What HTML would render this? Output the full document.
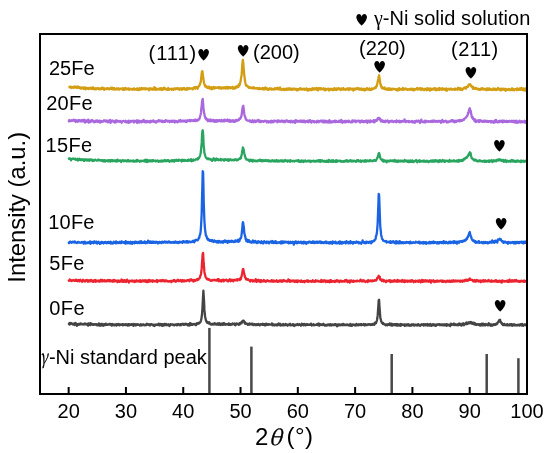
<!DOCTYPE html>
<html><head><meta charset="utf-8"><style>
html,body{margin:0;padding:0;background:#fff;}
body{width:550px;height:453px;overflow:hidden;}
svg{display:block;}
text{font-family:"Liberation Sans",sans-serif;fill:#000;}
.h text{font-family:"NanumGothic",sans-serif;}
.s{font-family:"Liberation Serif",serif;}
</style></head><body>
<svg width="550" height="453" viewBox="0 0 550 453">
<g font-size="20">
<polyline fill="none" stroke="#D49E14" stroke-width="2.3" stroke-linejoin="round" points="68.6,87.1 69.0,87.3 69.3,87.0 69.7,86.7 70.0,86.9 70.4,86.7 70.7,87.3 71.1,88.0 71.4,87.0 71.7,87.0 72.1,87.6 72.4,87.6 72.8,87.5 73.1,86.9 73.5,87.5 73.8,87.9 74.1,86.8 74.5,87.3 74.8,86.5 75.2,86.9 75.5,86.6 75.9,87.5 76.2,87.0 76.6,87.8 76.9,87.8 77.2,87.6 77.6,86.4 77.9,87.5 78.3,87.8 78.6,87.9 79.0,87.0 79.3,87.6 79.6,87.3 80.0,87.5 80.3,88.5 80.7,87.5 81.0,87.9 81.4,88.5 81.7,87.7 82.1,88.0 82.4,88.1 82.7,88.1 83.1,87.4 83.4,88.1 83.8,88.9 84.1,87.3 84.5,88.6 84.8,88.2 85.1,87.8 85.5,89.3 85.8,88.6 86.2,87.6 86.5,88.3 86.9,88.6 87.2,88.2 87.6,88.7 87.9,88.3 88.2,88.7 88.6,89.1 88.9,88.0 89.3,88.5 89.6,88.1 90.0,88.4 90.3,87.7 90.6,88.1 91.0,88.3 91.3,88.9 91.7,89.1 92.0,87.7 92.4,88.0 92.7,88.8 93.1,87.4 93.4,88.2 93.7,88.4 94.1,89.2 94.4,88.9 94.8,88.4 95.1,88.3 95.5,88.4 95.8,89.4 96.1,88.3 96.5,88.4 96.8,88.8 97.2,88.5 97.5,88.5 97.9,88.0 98.2,88.6 98.6,88.4 98.9,89.3 99.2,89.0 99.6,88.6 99.9,89.0 100.3,88.5 100.6,89.3 101.0,88.7 101.3,89.0 101.6,88.0 102.0,88.9 102.3,87.8 102.7,87.6 103.0,88.6 103.4,88.2 103.7,88.8 104.1,90.0 104.4,88.3 104.7,88.4 105.1,88.9 105.4,89.1 105.8,88.7 106.1,88.7 106.5,89.2 106.8,89.1 107.1,88.2 107.5,88.8 107.8,88.8 108.2,88.2 108.5,89.0 108.9,88.4 109.2,89.4 109.6,89.0 109.9,88.9 110.2,88.5 110.6,88.8 110.9,87.8 111.3,88.3 111.6,89.1 112.0,87.7 112.3,89.4 112.6,87.9 113.0,89.3 113.3,88.4 113.7,89.3 114.0,89.0 114.4,88.1 114.7,89.6 115.1,89.7 115.4,88.9 115.7,88.8 116.1,88.8 116.4,88.4 116.8,89.5 117.1,88.6 117.5,88.9 117.8,88.5 118.1,88.6 118.5,88.3 118.8,89.6 119.2,88.9 119.5,89.5 119.9,89.0 120.2,88.6 120.6,88.8 120.9,88.7 121.2,89.0 121.6,88.8 121.9,88.8 122.3,88.2 122.6,88.5 123.0,89.9 123.3,88.6 123.6,88.4 124.0,89.2 124.3,89.8 124.7,88.2 125.0,88.9 125.4,88.7 125.7,88.0 126.1,89.4 126.4,89.0 126.7,89.1 127.1,88.6 127.4,89.3 127.8,88.7 128.1,88.9 128.5,88.4 128.8,88.4 129.1,89.8 129.5,88.7 129.8,89.2 130.2,89.0 130.5,88.8 130.9,88.8 131.2,89.4 131.6,88.9 131.9,89.0 132.2,89.1 132.6,89.7 132.9,89.4 133.3,89.3 133.6,88.7 134.0,88.3 134.3,89.6 134.6,89.6 135.0,89.0 135.3,89.3 135.7,89.5 136.0,89.5 136.4,89.6 136.7,88.8 137.1,89.9 137.4,88.4 137.7,89.5 138.1,89.3 138.4,89.5 138.8,90.1 139.1,89.9 139.5,88.4 139.8,88.1 140.1,89.5 140.5,88.5 140.8,89.0 141.2,89.5 141.5,88.2 141.9,87.9 142.2,89.2 142.6,89.1 142.9,88.9 143.2,89.1 143.6,88.6 143.9,88.2 144.3,89.0 144.6,88.5 145.0,88.2 145.3,89.3 145.7,89.0 146.0,89.3 146.3,88.5 146.7,88.7 147.0,88.5 147.4,88.6 147.7,89.2 148.1,88.6 148.4,89.2 148.7,89.2 149.1,90.2 149.4,88.3 149.8,89.5 150.1,89.0 150.5,89.0 150.8,88.3 151.2,88.8 151.5,89.5 151.8,89.0 152.2,89.1 152.5,88.9 152.9,89.7 153.2,89.0 153.6,87.8 153.9,88.7 154.2,88.0 154.6,87.3 154.9,88.7 155.3,89.8 155.6,89.1 156.0,88.4 156.3,88.5 156.7,89.7 157.0,89.1 157.3,89.1 157.7,89.0 158.0,89.0 158.4,89.5 158.7,89.3 159.1,89.1 159.4,88.4 159.7,89.3 160.1,88.6 160.4,89.6 160.8,88.3 161.1,88.9 161.5,89.0 161.8,88.3 162.2,90.0 162.5,89.8 162.8,88.7 163.2,89.4 163.5,89.2 163.9,87.6 164.2,89.1 164.6,89.0 164.9,89.0 165.2,88.4 165.6,88.8 165.9,88.9 166.3,89.6 166.6,89.2 167.0,89.0 167.3,89.8 167.7,88.7 168.0,88.8 168.3,88.0 168.7,89.8 169.0,89.5 169.4,89.5 169.7,89.3 170.1,89.0 170.4,89.1 170.7,88.8 171.1,88.8 171.4,89.0 171.8,89.8 172.1,89.2 172.5,88.9 172.8,88.6 173.2,88.6 173.5,89.8 173.8,89.2 174.2,88.9 174.5,88.7 174.9,88.3 175.2,88.9 175.6,89.4 175.9,88.7 176.2,88.8 176.6,88.7 176.9,88.9 177.3,88.0 177.6,88.7 178.0,88.4 178.3,89.3 178.7,88.4 179.0,89.2 179.3,89.7 179.7,88.7 180.0,88.5 180.4,88.9 180.7,88.8 181.1,88.3 181.4,89.0 181.7,89.9 182.1,88.6 182.4,88.7 182.8,88.2 183.1,88.9 183.5,88.1 183.8,88.1 184.2,89.4 184.5,88.2 184.8,89.3 185.2,89.5 185.5,88.8 185.9,89.0 186.2,89.8 186.6,88.6 186.9,88.3 187.2,87.9 187.6,88.7 187.9,89.4 188.3,89.1 188.6,88.1 189.0,88.1 189.3,88.3 189.7,88.7 190.0,88.4 190.3,88.6 190.7,88.7 191.0,88.3 191.4,88.4 191.7,88.6 192.1,88.4 192.4,88.7 192.7,89.4 193.1,88.7 193.4,88.3 193.8,87.4 194.1,88.5 194.5,87.1 194.8,87.4 195.2,88.6 195.5,88.4 195.8,87.9 196.2,87.0 196.5,87.6 196.9,87.3 197.2,87.9 197.6,88.7 197.9,87.4 198.2,86.6 198.6,86.1 198.9,86.4 199.3,85.9 199.6,84.7 200.0,84.5 200.3,82.7 200.7,82.3 201.0,80.0 201.3,77.2 201.7,73.2 202.0,71.4 202.4,71.1 202.7,73.2 203.1,76.3 203.4,78.7 203.7,80.8 204.1,83.6 204.4,84.3 204.8,85.3 205.1,86.3 205.5,85.3 205.8,86.1 206.2,86.9 206.5,87.2 206.8,87.0 207.2,87.9 207.5,87.5 207.9,86.8 208.2,87.1 208.6,88.1 208.9,87.9 209.2,86.7 209.6,88.5 209.9,88.1 210.3,88.5 210.6,87.6 211.0,87.7 211.3,87.2 211.7,89.3 212.0,87.8 212.3,88.8 212.7,87.5 213.0,88.0 213.4,87.0 213.7,87.7 214.1,88.5 214.4,87.2 214.7,88.5 215.1,88.1 215.4,87.4 215.8,87.6 216.1,87.7 216.5,87.9 216.8,87.6 217.2,87.5 217.5,87.8 217.8,87.4 218.2,87.2 218.5,87.9 218.9,88.4 219.2,87.1 219.6,87.9 219.9,87.6 220.2,87.4 220.6,88.4 220.9,87.6 221.3,88.8 221.6,87.5 222.0,88.1 222.3,87.8 222.7,87.5 223.0,88.3 223.3,87.8 223.7,88.3 224.0,87.9 224.4,87.3 224.7,87.9 225.1,88.0 225.4,88.5 225.7,87.4 226.1,87.9 226.4,87.0 226.8,88.3 227.1,87.3 227.5,86.9 227.8,87.9 228.2,88.5 228.5,87.1 228.8,87.3 229.2,87.5 229.5,87.3 229.9,88.1 230.2,87.5 230.6,87.5 230.9,88.2 231.2,87.5 231.6,88.1 231.9,87.3 232.3,87.2 232.6,86.8 233.0,88.8 233.3,87.6 233.7,87.9 234.0,87.7 234.3,87.8 234.7,87.6 235.0,88.6 235.4,86.9 235.7,86.6 236.1,86.8 236.4,86.5 236.7,87.6 237.1,87.5 237.4,86.3 237.8,85.9 238.1,86.3 238.5,86.9 238.8,84.3 239.2,85.7 239.5,84.2 239.8,84.7 240.2,82.5 240.5,81.7 240.9,79.2 241.2,77.1 241.6,75.2 241.9,70.8 242.2,65.6 242.6,61.6 242.9,59.9 243.3,63.0 243.6,67.3 244.0,71.8 244.3,75.6 244.7,78.0 245.0,80.8 245.3,82.4 245.7,84.3 246.0,85.6 246.4,85.1 246.7,85.3 247.1,86.1 247.4,86.2 247.7,86.4 248.1,87.0 248.4,86.6 248.8,87.7 249.1,87.5 249.5,87.8 249.8,87.6 250.2,87.4 250.5,87.4 250.8,87.9 251.2,87.8 251.5,88.2 251.9,88.2 252.2,87.5 252.6,88.3 252.9,87.6 253.2,88.0 253.6,88.2 253.9,87.3 254.3,88.5 254.6,88.5 255.0,88.4 255.3,88.3 255.7,88.3 256.0,88.0 256.3,88.4 256.7,88.3 257.0,88.6 257.4,88.0 257.7,88.8 258.1,88.7 258.4,88.6 258.7,88.4 259.1,89.0 259.4,87.8 259.8,89.0 260.1,88.9 260.5,88.9 260.8,89.0 261.2,88.4 261.5,88.6 261.8,89.1 262.2,89.0 262.5,88.9 262.9,88.0 263.2,89.1 263.6,89.5 263.9,89.4 264.2,89.0 264.6,88.0 264.9,89.4 265.3,88.8 265.6,87.5 266.0,89.1 266.3,88.0 266.7,88.2 267.0,88.5 267.3,89.6 267.7,88.7 268.0,89.0 268.4,89.9 268.7,89.8 269.1,88.9 269.4,88.8 269.7,88.2 270.1,88.5 270.4,89.2 270.8,89.2 271.1,89.0 271.5,89.5 271.8,88.5 272.2,88.9 272.5,89.4 272.8,89.3 273.2,89.6 273.5,89.2 273.9,88.8 274.2,89.2 274.6,88.4 274.9,88.1 275.2,89.3 275.6,89.0 275.9,89.2 276.3,88.1 276.6,88.8 277.0,88.7 277.3,88.5 277.7,87.8 278.0,88.8 278.3,89.5 278.7,89.2 279.0,88.7 279.4,89.0 279.7,89.4 280.1,87.5 280.4,89.0 280.7,89.3 281.1,89.4 281.4,90.0 281.8,89.7 282.1,89.2 282.5,89.2 282.8,89.5 283.2,88.8 283.5,89.0 283.8,89.6 284.2,90.1 284.5,89.0 284.9,89.0 285.2,89.2 285.6,89.8 285.9,89.1 286.2,89.9 286.6,88.5 286.9,89.0 287.3,89.0 287.6,89.5 288.0,89.7 288.3,88.3 288.7,88.6 289.0,89.3 289.3,88.7 289.7,88.3 290.0,89.7 290.4,89.4 290.7,89.4 291.1,88.8 291.4,89.7 291.7,89.0 292.1,89.7 292.4,88.6 292.8,88.6 293.1,89.2 293.5,88.7 293.8,89.5 294.2,89.3 294.5,88.6 294.8,89.2 295.2,88.9 295.5,89.6 295.9,88.8 296.2,88.9 296.6,89.8 296.9,90.4 297.3,90.2 297.6,89.2 297.9,89.3 298.3,90.0 298.6,89.1 299.0,88.6 299.3,89.2 299.7,89.4 300.0,88.7 300.3,88.2 300.7,88.4 301.0,89.5 301.4,88.7 301.7,89.1 302.1,89.3 302.4,89.5 302.8,89.0 303.1,89.4 303.4,88.7 303.8,89.0 304.1,88.6 304.5,89.8 304.8,89.1 305.2,88.8 305.5,89.0 305.8,89.0 306.2,89.5 306.5,88.3 306.9,88.6 307.2,89.0 307.6,90.6 307.9,89.7 308.3,89.1 308.6,89.6 308.9,90.3 309.3,89.0 309.6,89.0 310.0,89.8 310.3,89.4 310.7,89.5 311.0,88.9 311.3,90.2 311.7,90.1 312.0,89.5 312.4,89.6 312.7,88.1 313.1,89.5 313.4,89.1 313.8,89.4 314.1,89.6 314.4,89.0 314.8,88.3 315.1,89.4 315.5,88.8 315.8,89.0 316.2,88.9 316.5,89.0 316.8,87.9 317.2,89.9 317.5,89.3 317.9,89.8 318.2,90.3 318.6,89.2 318.9,88.2 319.3,88.7 319.6,88.5 319.9,88.9 320.3,89.2 320.6,88.1 321.0,89.4 321.3,88.4 321.7,89.4 322.0,89.1 322.3,89.0 322.7,89.2 323.0,88.9 323.4,88.9 323.7,88.3 324.1,89.2 324.4,90.2 324.8,90.3 325.1,89.9 325.4,89.6 325.8,88.8 326.1,90.0 326.5,89.2 326.8,89.2 327.2,89.0 327.5,89.3 327.8,89.0 328.2,89.2 328.5,88.6 328.9,89.0 329.2,90.5 329.6,89.2 329.9,89.1 330.3,89.5 330.6,89.6 330.9,88.6 331.3,89.1 331.6,89.7 332.0,89.4 332.3,89.3 332.7,90.1 333.0,88.8 333.3,89.3 333.7,88.9 334.0,90.0 334.4,88.1 334.7,88.8 335.1,88.9 335.4,89.6 335.8,89.5 336.1,90.0 336.4,88.3 336.8,89.6 337.1,89.1 337.5,88.8 337.8,89.5 338.2,88.7 338.5,88.1 338.8,89.0 339.2,88.4 339.5,88.9 339.9,89.4 340.2,89.4 340.6,90.1 340.9,89.1 341.3,88.4 341.6,88.8 341.9,88.7 342.3,88.5 342.6,89.5 343.0,88.9 343.3,88.1 343.7,89.6 344.0,89.2 344.3,89.4 344.7,89.3 345.0,89.6 345.4,89.2 345.7,89.9 346.1,89.4 346.4,89.4 346.8,89.4 347.1,88.4 347.4,89.1 347.8,89.1 348.1,89.3 348.5,88.5 348.8,90.1 349.2,89.3 349.5,88.5 349.8,88.3 350.2,89.1 350.5,89.2 350.9,88.8 351.2,89.3 351.6,88.9 351.9,89.5 352.3,88.8 352.6,89.2 352.9,89.7 353.3,90.6 353.6,88.7 354.0,89.0 354.3,88.7 354.7,89.6 355.0,88.6 355.3,88.9 355.7,89.2 356.0,88.7 356.4,88.7 356.7,88.9 357.1,88.0 357.4,88.4 357.8,89.0 358.1,89.3 358.4,89.1 358.8,88.2 359.1,88.9 359.5,89.6 359.8,89.5 360.2,89.1 360.5,88.7 360.8,89.5 361.2,88.9 361.5,88.5 361.9,88.7 362.2,90.0 362.6,89.3 362.9,89.8 363.3,88.9 363.6,89.7 363.9,88.8 364.3,89.1 364.6,90.5 365.0,89.6 365.3,88.9 365.7,89.1 366.0,89.3 366.3,89.8 366.7,88.8 367.0,88.1 367.4,88.9 367.7,89.1 368.1,89.1 368.4,89.8 368.8,89.2 369.1,89.5 369.4,88.4 369.8,89.5 370.1,90.1 370.5,89.4 370.8,89.1 371.2,89.0 371.5,89.9 371.8,88.3 372.2,88.8 372.5,89.0 372.9,89.1 373.2,88.4 373.6,88.7 373.9,88.3 374.3,88.4 374.6,88.2 374.9,87.4 375.3,87.8 375.6,88.1 376.0,86.7 376.3,86.6 376.7,86.4 377.0,84.5 377.3,83.9 377.7,81.5 378.0,80.4 378.4,78.5 378.7,76.5 379.1,75.3 379.4,77.6 379.8,79.8 380.1,82.1 380.4,84.7 380.8,84.4 381.1,86.6 381.5,86.7 381.8,88.0 382.2,87.7 382.5,87.5 382.8,88.2 383.2,88.6 383.5,88.4 383.9,88.8 384.2,88.3 384.6,87.5 384.9,89.2 385.3,89.2 385.6,88.9 385.9,88.9 386.3,89.5 386.6,88.7 387.0,88.6 387.3,88.9 387.7,89.7 388.0,88.3 388.3,89.7 388.7,88.7 389.0,88.5 389.4,89.8 389.7,89.0 390.1,88.4 390.4,88.9 390.8,89.6 391.1,89.8 391.4,88.9 391.8,89.4 392.1,89.5 392.5,88.8 392.8,89.4 393.2,89.1 393.5,88.9 393.8,88.9 394.2,89.2 394.5,89.2 394.9,88.9 395.2,89.0 395.6,89.8 395.9,89.3 396.3,89.7 396.6,89.9 396.9,89.5 397.3,90.5 397.6,88.8 398.0,89.7 398.3,89.0 398.7,90.2 399.0,90.1 399.3,88.1 399.7,88.7 400.0,89.6 400.4,89.7 400.7,89.6 401.1,89.2 401.4,89.5 401.8,89.6 402.1,89.2 402.4,89.8 402.8,88.0 403.1,89.6 403.5,88.7 403.8,89.8 404.2,89.1 404.5,88.7 404.8,89.4 405.2,88.7 405.5,88.7 405.9,88.4 406.2,89.2 406.6,89.5 406.9,89.8 407.3,89.2 407.6,89.8 407.9,89.3 408.3,89.2 408.6,89.6 409.0,89.8 409.3,89.1 409.7,89.1 410.0,89.2 410.3,89.3 410.7,88.7 411.0,89.8 411.4,89.0 411.7,89.5 412.1,88.8 412.4,89.4 412.8,89.5 413.1,89.0 413.4,90.4 413.8,89.5 414.1,90.2 414.5,89.8 414.8,88.9 415.2,89.0 415.5,89.5 415.8,89.3 416.2,89.3 416.5,89.1 416.9,88.3 417.2,89.1 417.6,88.0 417.9,89.5 418.3,88.9 418.6,88.9 418.9,89.1 419.3,89.4 419.6,88.5 420.0,88.3 420.3,88.7 420.7,88.1 421.0,88.7 421.3,90.1 421.7,88.7 422.0,89.6 422.4,88.5 422.7,89.4 423.1,89.1 423.4,89.2 423.8,89.6 424.1,90.2 424.4,89.4 424.8,89.3 425.1,88.7 425.5,89.6 425.8,89.1 426.2,89.7 426.5,89.2 426.8,90.2 427.2,88.2 427.5,89.1 427.9,89.7 428.2,89.1 428.6,88.8 428.9,89.1 429.3,88.5 429.6,89.3 429.9,90.6 430.3,89.9 430.6,88.6 431.0,88.8 431.3,89.0 431.7,89.8 432.0,88.8 432.3,88.9 432.7,89.7 433.0,89.7 433.4,89.0 433.7,88.6 434.1,88.4 434.4,88.9 434.8,88.0 435.1,89.7 435.4,88.9 435.8,89.5 436.1,90.3 436.5,89.9 436.8,88.6 437.2,89.7 437.5,89.9 437.8,88.8 438.2,88.7 438.5,89.2 438.9,88.4 439.2,90.1 439.6,87.9 439.9,88.6 440.3,89.1 440.6,89.1 440.9,89.3 441.3,89.4 441.6,89.1 442.0,89.9 442.3,88.1 442.7,89.2 443.0,88.8 443.3,89.3 443.7,89.4 444.0,88.7 444.4,88.9 444.7,89.7 445.1,89.4 445.4,88.9 445.8,90.4 446.1,90.5 446.4,88.4 446.8,89.4 447.1,90.6 447.5,89.7 447.8,89.3 448.2,89.1 448.5,88.9 448.8,89.1 449.2,88.9 449.5,89.6 449.9,89.0 450.2,89.0 450.6,88.6 450.9,89.2 451.3,88.7 451.6,89.1 451.9,89.8 452.3,89.4 452.6,89.5 453.0,89.4 453.3,89.2 453.7,89.1 454.0,89.0 454.4,89.6 454.7,88.6 455.0,89.9 455.4,89.2 455.7,88.7 456.1,88.9 456.4,88.8 456.8,89.2 457.1,88.7 457.4,89.7 457.8,88.7 458.1,87.8 458.5,88.7 458.8,88.0 459.2,89.0 459.5,89.6 459.9,89.4 460.2,88.2 460.5,88.5 460.9,89.9 461.2,89.0 461.6,88.8 461.9,89.3 462.3,90.0 462.6,89.3 462.9,88.6 463.3,88.7 463.6,88.7 464.0,87.9 464.3,87.6 464.7,88.0 465.0,87.4 465.4,87.7 465.7,87.6 466.0,88.7 466.4,86.8 466.7,87.0 467.1,86.8 467.4,86.9 467.8,87.0 468.1,85.8 468.4,85.3 468.8,84.4 469.1,84.5 469.5,85.0 469.8,84.6 470.2,84.2 470.5,84.9 470.9,85.6 471.2,86.4 471.5,86.3 471.9,86.9 472.2,86.4 472.6,87.1 472.9,88.9 473.3,87.0 473.6,88.2 473.9,88.6 474.3,88.4 474.6,88.2 475.0,88.7 475.3,88.8 475.7,88.8 476.0,87.9 476.4,88.8 476.7,88.5 477.0,88.7 477.4,89.1 477.7,89.4 478.1,89.5 478.4,88.8 478.8,89.6 479.1,89.7 479.4,89.7 479.8,89.9 480.1,89.0 480.5,89.0 480.8,89.6 481.2,88.4 481.5,89.3 481.9,88.9 482.2,89.0 482.5,88.2 482.9,88.7 483.2,89.2 483.6,89.7 483.9,89.7 484.3,89.2 484.6,89.1 484.9,88.7 485.3,89.4 485.6,89.1 486.0,89.5 486.3,90.2 486.7,89.2 487.0,88.4 487.4,88.8 487.7,88.4 488.0,88.6 488.4,89.9 488.7,89.4 489.1,88.4 489.4,89.6 489.8,89.9 490.1,89.0 490.4,88.9 490.8,89.1 491.1,89.4 491.5,89.6 491.8,89.9 492.2,89.9 492.5,89.9 492.9,90.0 493.2,89.6 493.5,88.4 493.9,89.2 494.2,89.4 494.6,89.0 494.9,89.8 495.3,89.1 495.6,88.7 495.9,90.1 496.3,89.6 496.6,89.4 497.0,89.8 497.3,89.8 497.7,89.4 498.0,87.9 498.4,88.9 498.7,89.0 499.0,88.7 499.4,89.4 499.7,89.9 500.1,89.0 500.4,88.6 500.8,90.4 501.1,89.0 501.4,88.6 501.8,89.4 502.1,89.5 502.5,88.9 502.8,89.7 503.2,89.0 503.5,88.8 503.9,89.4 504.2,89.7 504.5,88.9 504.9,89.5 505.2,89.2 505.6,90.8 505.9,88.9 506.3,90.0 506.6,89.2 506.9,89.2 507.3,89.7 507.6,89.8 508.0,90.0 508.3,89.5 508.7,88.9 509.0,89.0 509.4,89.6 509.7,89.6 510.0,90.0 510.4,89.5 510.7,89.9 511.1,90.1 511.4,89.4 511.8,88.5 512.1,88.6 512.4,88.5 512.8,90.2 513.1,88.8 513.5,90.0 513.8,89.6 514.2,90.2 514.5,89.8 514.9,89.2 515.2,89.2 515.5,89.3 515.9,89.4 516.2,89.0 516.6,89.3 516.9,90.2 517.3,88.3 517.6,89.4 517.9,88.8 518.3,89.4 518.6,89.7 519.0,89.2 519.3,89.7 519.7,88.4 520.0,89.9 520.4,88.9 520.7,89.6 521.0,89.4 521.4,87.9 521.7,88.9 522.1,89.4 522.4,90.1 522.8,89.4 523.1,89.4 523.4,88.5 523.8,90.1 524.1,90.3 524.5,89.3 524.8,89.2 525.2,88.4 525.5,89.8 525.9,90.8 526.2,89.7 526.5,90.0 526.9,89.6"/>
<polyline fill="none" stroke="#AA68DE" stroke-width="2.3" stroke-linejoin="round" points="68.6,120.1 69.0,121.4 69.3,120.0 69.7,120.6 70.0,120.9 70.4,121.2 70.7,121.0 71.1,121.0 71.4,120.3 71.7,120.1 72.1,120.8 72.4,120.4 72.8,120.1 73.1,120.1 73.5,120.6 73.8,119.8 74.1,120.1 74.5,120.0 74.8,121.0 75.2,121.1 75.5,122.0 75.9,120.1 76.2,120.5 76.6,121.4 76.9,120.8 77.2,120.7 77.6,121.9 77.9,120.8 78.3,120.3 78.6,120.2 79.0,121.1 79.3,121.1 79.6,120.2 80.0,120.4 80.3,121.3 80.7,121.3 81.0,120.7 81.4,121.4 81.7,121.3 82.1,120.0 82.4,120.9 82.7,121.3 83.1,120.7 83.4,119.9 83.8,120.9 84.1,121.5 84.5,121.9 84.8,119.9 85.1,122.5 85.5,120.5 85.8,121.6 86.2,121.8 86.5,121.6 86.9,121.2 87.2,120.5 87.6,121.5 87.9,120.7 88.2,119.7 88.6,122.7 88.9,121.5 89.3,122.1 89.6,120.6 90.0,122.0 90.3,122.0 90.6,122.0 91.0,121.2 91.3,120.5 91.7,121.1 92.0,120.0 92.4,120.2 92.7,121.2 93.1,120.6 93.4,121.1 93.7,121.1 94.1,122.3 94.4,121.9 94.8,121.2 95.1,121.9 95.5,120.8 95.8,121.0 96.1,121.7 96.5,120.5 96.8,121.1 97.2,120.5 97.5,121.3 97.9,122.1 98.2,120.8 98.6,121.4 98.9,120.8 99.2,120.6 99.6,120.6 99.9,122.1 100.3,122.6 100.6,121.5 101.0,120.9 101.3,121.7 101.6,121.1 102.0,121.7 102.3,121.4 102.7,121.4 103.0,121.6 103.4,121.0 103.7,121.1 104.1,120.3 104.4,121.0 104.7,120.5 105.1,121.2 105.4,120.8 105.8,121.4 106.1,121.6 106.5,120.5 106.8,120.9 107.1,120.8 107.5,121.7 107.8,122.3 108.2,121.8 108.5,121.1 108.9,122.1 109.2,120.5 109.6,122.1 109.9,121.0 110.2,119.8 110.6,122.8 110.9,122.2 111.3,120.8 111.6,121.4 112.0,121.2 112.3,121.4 112.6,120.5 113.0,121.0 113.3,121.6 113.7,121.5 114.0,122.0 114.4,121.4 114.7,122.6 115.1,121.0 115.4,121.5 115.7,120.3 116.1,120.7 116.4,122.1 116.8,120.8 117.1,121.6 117.5,121.3 117.8,120.8 118.1,121.2 118.5,121.1 118.8,121.1 119.2,121.8 119.5,121.7 119.9,121.0 120.2,120.9 120.6,121.5 120.9,121.3 121.2,121.9 121.6,122.8 121.9,121.8 122.3,121.3 122.6,121.3 123.0,120.9 123.3,120.9 123.6,120.8 124.0,121.2 124.3,121.1 124.7,121.8 125.0,121.2 125.4,121.3 125.7,120.7 126.1,122.3 126.4,121.7 126.7,122.4 127.1,121.8 127.4,122.2 127.8,121.2 128.1,121.8 128.5,122.9 128.8,120.7 129.1,122.0 129.5,122.3 129.8,121.6 130.2,121.8 130.5,122.1 130.9,121.0 131.2,121.6 131.6,120.9 131.9,121.0 132.2,121.0 132.6,121.3 132.9,121.5 133.3,121.6 133.6,120.6 134.0,122.5 134.3,122.0 134.6,121.8 135.0,121.2 135.3,121.3 135.7,121.7 136.0,121.6 136.4,120.4 136.7,121.8 137.1,123.0 137.4,120.3 137.7,121.9 138.1,121.6 138.4,121.3 138.8,122.2 139.1,120.7 139.5,121.5 139.8,122.2 140.1,121.3 140.5,121.2 140.8,121.5 141.2,121.1 141.5,122.3 141.9,120.9 142.2,121.9 142.6,120.7 142.9,121.8 143.2,121.3 143.6,119.9 143.9,121.4 144.3,120.8 144.6,121.1 145.0,122.3 145.3,120.8 145.7,120.8 146.0,122.2 146.3,121.4 146.7,122.3 147.0,121.6 147.4,120.9 147.7,121.3 148.1,122.1 148.4,121.9 148.7,121.4 149.1,121.4 149.4,121.3 149.8,121.1 150.1,122.5 150.5,121.4 150.8,120.7 151.2,121.1 151.5,121.8 151.8,121.7 152.2,121.3 152.5,121.0 152.9,121.4 153.2,120.4 153.6,120.6 153.9,121.8 154.2,121.1 154.6,121.6 154.9,122.1 155.3,121.7 155.6,121.4 156.0,122.6 156.3,121.7 156.7,121.2 157.0,121.8 157.3,121.6 157.7,120.9 158.0,121.4 158.4,121.3 158.7,120.2 159.1,121.3 159.4,121.2 159.7,121.1 160.1,120.4 160.4,121.2 160.8,121.3 161.1,121.4 161.5,120.7 161.8,121.7 162.2,120.7 162.5,121.2 162.8,122.1 163.2,121.0 163.5,121.1 163.9,121.9 164.2,121.1 164.6,121.2 164.9,121.5 165.2,121.9 165.6,120.1 165.9,120.9 166.3,120.8 166.6,120.7 167.0,120.8 167.3,120.9 167.7,121.5 168.0,120.8 168.3,121.4 168.7,121.5 169.0,120.9 169.4,121.4 169.7,122.2 170.1,121.5 170.4,120.9 170.7,121.3 171.1,120.8 171.4,121.5 171.8,121.8 172.1,120.8 172.5,121.2 172.8,121.9 173.2,121.0 173.5,121.4 173.8,120.7 174.2,120.8 174.5,121.0 174.9,122.5 175.2,121.0 175.6,121.0 175.9,121.0 176.2,121.2 176.6,121.6 176.9,121.4 177.3,122.4 177.6,121.4 178.0,122.0 178.3,121.4 178.7,121.6 179.0,120.4 179.3,121.2 179.7,121.2 180.0,121.1 180.4,120.0 180.7,121.7 181.1,121.0 181.4,121.0 181.7,121.1 182.1,121.1 182.4,121.4 182.8,120.5 183.1,120.7 183.5,121.3 183.8,121.3 184.2,121.0 184.5,120.8 184.8,120.7 185.2,121.1 185.5,121.8 185.9,120.5 186.2,122.0 186.6,121.6 186.9,120.9 187.2,121.5 187.6,120.3 187.9,120.1 188.3,120.4 188.6,120.8 189.0,120.9 189.3,120.8 189.7,121.1 190.0,119.8 190.3,121.3 190.7,120.2 191.0,120.6 191.4,120.7 191.7,120.3 192.1,120.1 192.4,120.3 192.7,120.8 193.1,121.1 193.4,121.1 193.8,120.2 194.1,120.3 194.5,120.2 194.8,120.9 195.2,119.5 195.5,121.2 195.8,120.2 196.2,119.9 196.5,120.5 196.9,120.7 197.2,120.2 197.6,120.5 197.9,119.8 198.2,120.2 198.6,119.9 198.9,118.8 199.3,119.2 199.6,117.9 200.0,117.1 200.3,115.5 200.7,114.3 201.0,112.7 201.3,108.7 201.7,106.1 202.0,102.2 202.4,99.7 202.7,98.9 203.1,103.1 203.4,107.4 203.7,110.0 204.1,113.1 204.4,113.6 204.8,116.7 205.1,116.9 205.5,118.5 205.8,117.5 206.2,119.3 206.5,119.1 206.8,119.9 207.2,119.2 207.5,119.5 207.9,121.2 208.2,119.6 208.6,119.8 208.9,120.1 209.2,119.7 209.6,121.0 209.9,121.3 210.3,120.1 210.6,119.5 211.0,121.2 211.3,121.1 211.7,121.0 212.0,121.2 212.3,120.1 212.7,120.5 213.0,119.9 213.4,119.9 213.7,121.2 214.1,120.3 214.4,121.9 214.7,120.7 215.1,120.3 215.4,121.1 215.8,121.7 216.1,121.0 216.5,120.1 216.8,120.9 217.2,121.5 217.5,120.5 217.8,120.3 218.2,121.3 218.5,120.8 218.9,120.1 219.2,120.5 219.6,120.3 219.9,120.9 220.2,120.8 220.6,121.4 220.9,121.2 221.3,119.9 221.6,121.0 222.0,121.3 222.3,121.0 222.7,121.3 223.0,120.5 223.3,120.3 223.7,121.3 224.0,120.2 224.4,119.6 224.7,121.3 225.1,120.4 225.4,120.6 225.7,120.0 226.1,120.1 226.4,120.2 226.8,120.6 227.1,121.0 227.5,119.5 227.8,121.2 228.2,120.1 228.5,120.2 228.8,121.2 229.2,120.8 229.5,119.9 229.9,121.8 230.2,120.3 230.6,120.9 230.9,120.9 231.2,121.6 231.6,120.5 231.9,121.3 232.3,120.4 232.6,121.4 233.0,120.3 233.3,120.5 233.7,121.8 234.0,120.9 234.3,120.8 234.7,121.9 235.0,120.9 235.4,120.2 235.7,121.0 236.1,119.9 236.4,121.2 236.7,121.2 237.1,120.1 237.4,120.0 237.8,120.4 238.1,120.2 238.5,119.6 238.8,120.3 239.2,118.7 239.5,119.3 239.8,119.0 240.2,118.7 240.5,118.5 240.9,117.0 241.2,117.0 241.6,115.1 241.9,113.0 242.2,110.1 242.6,107.5 242.9,106.4 243.3,105.7 243.6,108.2 244.0,111.5 244.3,113.9 244.7,116.1 245.0,116.5 245.3,117.1 245.7,119.0 246.0,119.1 246.4,120.0 246.7,119.7 247.1,120.5 247.4,120.5 247.7,120.6 248.1,120.6 248.4,120.7 248.8,120.7 249.1,120.7 249.5,121.2 249.8,120.4 250.2,121.7 250.5,120.8 250.8,121.4 251.2,120.8 251.5,120.8 251.9,122.1 252.2,120.8 252.6,120.3 252.9,120.6 253.2,120.8 253.6,122.2 253.9,121.2 254.3,121.6 254.6,120.5 255.0,121.3 255.3,121.5 255.7,122.1 256.0,120.7 256.3,121.5 256.7,121.3 257.0,120.6 257.4,121.1 257.7,121.0 258.1,119.9 258.4,121.5 258.7,121.5 259.1,120.9 259.4,120.5 259.8,122.0 260.1,121.4 260.5,121.8 260.8,122.0 261.2,120.9 261.5,121.7 261.8,121.1 262.2,121.2 262.5,121.2 262.9,121.2 263.2,121.9 263.6,121.3 263.9,121.2 264.2,121.1 264.6,121.5 264.9,120.8 265.3,121.0 265.6,121.2 266.0,121.0 266.3,121.2 266.7,120.9 267.0,122.4 267.3,122.0 267.7,121.5 268.0,121.3 268.4,122.5 268.7,121.5 269.1,121.3 269.4,121.5 269.7,121.5 270.1,122.1 270.4,121.3 270.8,122.5 271.1,120.8 271.5,121.7 271.8,120.8 272.2,122.3 272.5,121.1 272.8,121.3 273.2,121.8 273.5,122.0 273.9,120.7 274.2,121.1 274.6,120.6 274.9,121.4 275.2,121.3 275.6,121.2 275.9,121.0 276.3,121.1 276.6,120.9 277.0,121.6 277.3,122.2 277.7,120.3 278.0,121.3 278.3,121.1 278.7,121.6 279.0,120.8 279.4,121.3 279.7,120.8 280.1,121.7 280.4,121.4 280.7,121.3 281.1,121.6 281.4,121.2 281.8,120.5 282.1,121.7 282.5,121.5 282.8,121.3 283.2,121.9 283.5,122.0 283.8,120.8 284.2,120.9 284.5,122.2 284.9,122.2 285.2,121.0 285.6,120.7 285.9,121.0 286.2,121.1 286.6,120.5 286.9,121.4 287.3,120.7 287.6,120.7 288.0,121.9 288.3,121.0 288.7,121.4 289.0,121.7 289.3,121.8 289.7,121.2 290.0,121.4 290.4,120.9 290.7,122.4 291.1,121.8 291.4,120.8 291.7,121.4 292.1,121.8 292.4,121.7 292.8,122.4 293.1,122.2 293.5,121.1 293.8,121.4 294.2,120.7 294.5,121.5 294.8,121.5 295.2,122.9 295.5,121.5 295.9,120.3 296.2,121.0 296.6,121.5 296.9,120.7 297.3,120.9 297.6,121.2 297.9,121.6 298.3,121.3 298.6,120.9 299.0,121.8 299.3,121.1 299.7,121.1 300.0,120.7 300.3,121.0 300.7,121.8 301.0,120.5 301.4,121.4 301.7,121.8 302.1,121.2 302.4,121.6 302.8,120.8 303.1,122.1 303.4,122.0 303.8,121.6 304.1,120.5 304.5,120.9 304.8,122.0 305.2,122.4 305.5,121.6 305.8,122.1 306.2,121.1 306.5,121.3 306.9,121.4 307.2,121.7 307.6,120.6 307.9,121.9 308.3,122.2 308.6,120.8 308.9,120.7 309.3,121.6 309.6,121.1 310.0,120.1 310.3,121.9 310.7,121.5 311.0,121.2 311.3,122.6 311.7,121.5 312.0,121.0 312.4,121.5 312.7,120.9 313.1,121.0 313.4,121.6 313.8,121.1 314.1,121.2 314.4,122.4 314.8,121.9 315.1,121.9 315.5,121.7 315.8,121.7 316.2,122.2 316.5,121.4 316.8,122.5 317.2,120.9 317.5,121.3 317.9,120.7 318.2,121.3 318.6,121.7 318.9,122.2 319.3,121.1 319.6,121.4 319.9,121.2 320.3,121.0 320.6,120.8 321.0,121.5 321.3,120.5 321.7,121.5 322.0,121.5 322.3,121.1 322.7,120.9 323.0,120.7 323.4,122.5 323.7,120.7 324.1,122.3 324.4,121.8 324.8,121.2 325.1,120.8 325.4,122.0 325.8,122.4 326.1,120.9 326.5,121.3 326.8,122.0 327.2,121.6 327.5,122.5 327.8,121.1 328.2,121.7 328.5,120.8 328.9,122.6 329.2,121.0 329.6,120.2 329.9,121.4 330.3,121.4 330.6,122.5 330.9,121.3 331.3,121.4 331.6,121.8 332.0,122.3 332.3,121.4 332.7,122.0 333.0,121.7 333.3,121.3 333.7,121.5 334.0,121.5 334.4,120.9 334.7,122.1 335.1,120.7 335.4,122.1 335.8,122.0 336.1,121.4 336.4,121.0 336.8,121.3 337.1,121.7 337.5,121.9 337.8,121.6 338.2,122.0 338.5,121.1 338.8,121.6 339.2,120.6 339.5,121.9 339.9,121.5 340.2,121.2 340.6,122.1 340.9,121.8 341.3,119.9 341.6,121.5 341.9,120.7 342.3,122.0 342.6,122.8 343.0,121.2 343.3,121.5 343.7,121.3 344.0,121.6 344.3,121.8 344.7,122.2 345.0,120.9 345.4,122.3 345.7,120.9 346.1,121.6 346.4,122.1 346.8,121.8 347.1,120.9 347.4,121.1 347.8,121.2 348.1,121.4 348.5,122.1 348.8,120.7 349.2,121.7 349.5,121.8 349.8,121.8 350.2,121.7 350.5,122.3 350.9,121.7 351.2,121.9 351.6,121.8 351.9,122.4 352.3,120.4 352.6,122.2 352.9,121.3 353.3,121.3 353.6,120.9 354.0,120.4 354.3,121.2 354.7,121.1 355.0,121.7 355.3,120.6 355.7,122.2 356.0,121.6 356.4,121.3 356.7,121.1 357.1,121.0 357.4,120.8 357.8,121.2 358.1,121.5 358.4,121.4 358.8,120.7 359.1,121.3 359.5,121.0 359.8,121.5 360.2,122.5 360.5,121.8 360.8,121.3 361.2,120.6 361.5,120.7 361.9,120.5 362.2,121.8 362.6,121.0 362.9,121.5 363.3,121.1 363.6,121.5 363.9,122.2 364.3,121.1 364.6,121.2 365.0,121.0 365.3,121.9 365.7,120.9 366.0,120.8 366.3,120.7 366.7,120.6 367.0,121.7 367.4,122.8 367.7,120.9 368.1,121.9 368.4,121.5 368.8,120.8 369.1,121.2 369.4,121.3 369.8,121.0 370.1,122.4 370.5,120.3 370.8,121.6 371.2,121.5 371.5,121.0 371.8,121.4 372.2,121.8 372.5,121.4 372.9,121.5 373.2,121.6 373.6,120.1 373.9,122.0 374.3,122.4 374.6,121.6 374.9,121.6 375.3,120.2 375.6,120.8 376.0,120.3 376.3,120.3 376.7,120.9 377.0,119.7 377.3,119.7 377.7,118.3 378.0,118.8 378.4,118.5 378.7,117.8 379.1,117.8 379.4,119.5 379.8,118.3 380.1,118.8 380.4,119.3 380.8,120.8 381.1,121.5 381.5,120.8 381.8,120.4 382.2,120.6 382.5,121.6 382.8,120.5 383.2,121.9 383.5,121.9 383.9,121.2 384.2,121.6 384.6,121.7 384.9,122.1 385.3,120.7 385.6,122.0 385.9,121.1 386.3,120.9 386.6,121.4 387.0,121.2 387.3,120.8 387.7,120.5 388.0,120.9 388.3,122.2 388.7,122.5 389.0,121.8 389.4,122.1 389.7,121.1 390.1,121.4 390.4,121.6 390.8,120.8 391.1,120.9 391.4,121.5 391.8,121.3 392.1,120.8 392.5,121.6 392.8,121.3 393.2,122.0 393.5,121.4 393.8,121.3 394.2,121.5 394.5,121.3 394.9,121.1 395.2,121.2 395.6,121.9 395.9,121.8 396.3,122.2 396.6,120.5 396.9,121.2 397.3,121.2 397.6,121.5 398.0,121.2 398.3,121.2 398.7,121.9 399.0,121.6 399.3,120.8 399.7,122.2 400.0,122.0 400.4,121.1 400.7,121.9 401.1,121.1 401.4,122.1 401.8,121.3 402.1,121.0 402.4,121.3 402.8,121.0 403.1,121.6 403.5,121.6 403.8,121.5 404.2,121.2 404.5,119.4 404.8,121.5 405.2,120.4 405.5,121.6 405.9,122.1 406.2,121.6 406.6,121.2 406.9,121.4 407.3,121.4 407.6,121.2 407.9,121.1 408.3,121.0 408.6,122.1 409.0,121.5 409.3,122.0 409.7,121.3 410.0,121.5 410.3,121.4 410.7,121.7 411.0,121.9 411.4,121.6 411.7,121.1 412.1,121.0 412.4,122.4 412.8,121.3 413.1,121.3 413.4,122.3 413.8,122.1 414.1,121.8 414.5,121.2 414.8,122.8 415.2,121.7 415.5,121.8 415.8,121.4 416.2,120.7 416.5,120.7 416.9,121.7 417.2,121.7 417.6,121.3 417.9,120.8 418.3,120.7 418.6,121.3 418.9,120.7 419.3,122.0 419.6,122.1 420.0,123.0 420.3,121.9 420.7,121.1 421.0,121.0 421.3,119.6 421.7,121.1 422.0,121.4 422.4,122.0 422.7,121.8 423.1,121.8 423.4,121.6 423.8,121.8 424.1,122.3 424.4,120.9 424.8,121.2 425.1,120.7 425.5,122.4 425.8,122.2 426.2,121.9 426.5,120.8 426.8,121.6 427.2,121.3 427.5,121.5 427.9,121.4 428.2,121.7 428.6,121.2 428.9,121.9 429.3,121.6 429.6,121.3 429.9,121.4 430.3,121.2 430.6,121.9 431.0,121.3 431.3,121.6 431.7,121.2 432.0,120.6 432.3,122.0 432.7,120.9 433.0,121.8 433.4,121.7 433.7,120.5 434.1,120.9 434.4,121.2 434.8,121.0 435.1,120.8 435.4,121.9 435.8,121.3 436.1,121.7 436.5,121.2 436.8,121.6 437.2,121.0 437.5,121.4 437.8,121.8 438.2,121.5 438.5,121.2 438.9,120.8 439.2,121.5 439.6,121.6 439.9,121.3 440.3,121.0 440.6,121.7 440.9,122.8 441.3,121.3 441.6,121.6 442.0,121.6 442.3,120.0 442.7,121.5 443.0,121.0 443.3,122.2 443.7,121.3 444.0,121.0 444.4,121.3 444.7,121.5 445.1,121.1 445.4,121.4 445.8,120.7 446.1,121.3 446.4,121.8 446.8,122.5 447.1,121.8 447.5,121.5 447.8,122.0 448.2,122.0 448.5,122.3 448.8,122.0 449.2,121.3 449.5,121.5 449.9,121.5 450.2,121.5 450.6,121.5 450.9,120.9 451.3,120.2 451.6,121.0 451.9,120.2 452.3,121.4 452.6,121.3 453.0,120.4 453.3,121.7 453.7,121.8 454.0,121.4 454.4,122.2 454.7,122.3 455.0,120.6 455.4,121.8 455.7,121.5 456.1,121.5 456.4,121.7 456.8,120.8 457.1,120.9 457.4,120.7 457.8,120.7 458.1,121.1 458.5,120.3 458.8,120.5 459.2,121.4 459.5,121.0 459.9,121.2 460.2,119.9 460.5,120.4 460.9,120.5 461.2,120.7 461.6,120.3 461.9,121.0 462.3,120.3 462.6,120.2 462.9,120.0 463.3,120.1 463.6,119.2 464.0,119.8 464.3,119.1 464.7,118.6 465.0,118.2 465.4,118.0 465.7,117.9 466.0,117.4 466.4,116.7 466.7,116.5 467.1,115.7 467.4,115.8 467.8,114.4 468.1,112.5 468.4,113.3 468.8,111.4 469.1,109.4 469.5,108.9 469.8,108.2 470.2,110.3 470.5,110.8 470.9,111.3 471.2,114.1 471.5,115.1 471.9,117.6 472.2,116.9 472.6,117.0 472.9,118.9 473.3,119.1 473.6,119.4 473.9,118.7 474.3,120.3 474.6,121.2 475.0,119.4 475.3,121.2 475.7,120.3 476.0,122.0 476.4,121.0 476.7,120.7 477.0,121.5 477.4,121.2 477.7,120.7 478.1,121.4 478.4,120.8 478.8,120.1 479.1,122.2 479.4,120.9 479.8,120.8 480.1,121.4 480.5,120.3 480.8,120.5 481.2,121.0 481.5,121.0 481.9,121.3 482.2,121.9 482.5,121.0 482.9,121.6 483.2,121.6 483.6,120.7 483.9,121.4 484.3,120.8 484.6,121.9 484.9,121.6 485.3,121.4 485.6,120.6 486.0,121.4 486.3,120.9 486.7,121.8 487.0,121.3 487.4,120.9 487.7,121.9 488.0,121.8 488.4,121.1 488.7,122.0 489.1,121.2 489.4,121.2 489.8,121.5 490.1,121.0 490.4,121.2 490.8,121.3 491.1,122.3 491.5,122.2 491.8,121.3 492.2,122.3 492.5,121.4 492.9,121.6 493.2,121.9 493.5,121.6 493.9,122.8 494.2,121.6 494.6,120.8 494.9,122.2 495.3,121.2 495.6,121.3 495.9,119.8 496.3,122.0 496.6,121.9 497.0,121.9 497.3,122.0 497.7,122.4 498.0,121.4 498.4,122.0 498.7,121.0 499.0,121.3 499.4,122.0 499.7,121.7 500.1,120.7 500.4,121.7 500.8,121.4 501.1,121.0 501.4,121.7 501.8,121.2 502.1,120.6 502.5,120.8 502.8,122.4 503.2,120.6 503.5,121.6 503.9,121.8 504.2,121.8 504.5,120.8 504.9,121.3 505.2,121.5 505.6,121.9 505.9,121.1 506.3,120.8 506.6,122.0 506.9,122.1 507.3,121.7 507.6,121.1 508.0,121.7 508.3,121.5 508.7,121.9 509.0,120.8 509.4,121.5 509.7,121.4 510.0,120.9 510.4,121.6 510.7,121.5 511.1,121.2 511.4,121.7 511.8,120.7 512.1,121.4 512.4,121.7 512.8,121.6 513.1,122.1 513.5,120.8 513.8,120.6 514.2,121.6 514.5,121.7 514.9,122.6 515.2,121.8 515.5,121.0 515.9,121.9 516.2,121.0 516.6,120.7 516.9,122.9 517.3,121.7 517.6,121.9 517.9,121.8 518.3,122.5 518.6,121.6 519.0,122.1 519.3,120.9 519.7,120.7 520.0,122.3 520.4,122.3 520.7,121.8 521.0,121.6 521.4,121.6 521.7,121.1 522.1,122.3 522.4,121.8 522.8,121.8 523.1,121.7 523.4,122.1 523.8,121.8 524.1,121.9 524.5,120.8 524.8,121.8 525.2,122.7 525.5,121.2 525.9,121.4 526.2,122.0 526.5,122.0 526.9,121.8"/>
<polyline fill="none" stroke="#2AA560" stroke-width="2.3" stroke-linejoin="round" points="68.6,157.9 69.0,158.9 69.3,158.2 69.7,158.4 70.0,159.0 70.4,158.7 70.7,159.2 71.1,160.3 71.4,159.3 71.7,159.3 72.1,158.6 72.4,158.7 72.8,158.6 73.1,158.8 73.5,158.6 73.8,158.9 74.1,159.1 74.5,158.8 74.8,158.6 75.2,158.7 75.5,159.5 75.9,159.3 76.2,159.8 76.6,159.8 76.9,159.2 77.2,159.7 77.6,158.8 77.9,160.5 78.3,160.0 78.6,159.4 79.0,159.0 79.3,159.7 79.6,158.8 80.0,159.3 80.3,160.0 80.7,159.7 81.0,159.5 81.4,160.1 81.7,159.3 82.1,159.9 82.4,159.5 82.7,159.4 83.1,160.0 83.4,159.4 83.8,160.7 84.1,159.6 84.5,160.8 84.8,159.4 85.1,160.2 85.5,159.4 85.8,159.4 86.2,160.0 86.5,160.3 86.9,159.4 87.2,160.6 87.6,159.7 87.9,160.1 88.2,160.2 88.6,160.4 88.9,159.3 89.3,160.8 89.6,160.4 90.0,160.0 90.3,159.7 90.6,159.4 91.0,159.6 91.3,160.4 91.7,160.1 92.0,159.7 92.4,160.0 92.7,161.0 93.1,160.1 93.4,160.0 93.7,160.9 94.1,160.5 94.4,160.3 94.8,160.1 95.1,159.6 95.5,159.8 95.8,160.1 96.1,160.3 96.5,160.5 96.8,160.6 97.2,160.5 97.5,160.5 97.9,160.0 98.2,159.5 98.6,160.2 98.9,160.0 99.2,160.2 99.6,160.3 99.9,159.9 100.3,160.0 100.6,160.5 101.0,160.6 101.3,160.2 101.6,160.8 102.0,160.4 102.3,160.1 102.7,160.6 103.0,161.4 103.4,160.3 103.7,161.1 104.1,161.2 104.4,161.3 104.7,160.2 105.1,161.5 105.4,160.7 105.8,160.5 106.1,160.5 106.5,160.9 106.8,160.7 107.1,160.6 107.5,161.2 107.8,160.3 108.2,160.2 108.5,161.0 108.9,161.0 109.2,161.2 109.6,160.2 109.9,161.2 110.2,160.9 110.6,161.5 110.9,160.1 111.3,160.8 111.6,160.6 112.0,160.0 112.3,160.4 112.6,161.2 113.0,160.5 113.3,160.4 113.7,161.1 114.0,161.2 114.4,161.2 114.7,160.4 115.1,160.7 115.4,161.2 115.7,160.5 116.1,160.4 116.4,161.2 116.8,161.5 117.1,160.3 117.5,159.6 117.8,160.1 118.1,160.3 118.5,160.7 118.8,161.1 119.2,160.7 119.5,160.5 119.9,160.9 120.2,160.4 120.6,160.8 120.9,160.5 121.2,162.0 121.6,161.2 121.9,160.5 122.3,160.4 122.6,160.6 123.0,160.1 123.3,160.5 123.6,160.5 124.0,161.3 124.3,160.7 124.7,160.5 125.0,160.3 125.4,160.3 125.7,160.8 126.1,160.8 126.4,161.4 126.7,160.6 127.1,161.4 127.4,161.0 127.8,160.9 128.1,160.0 128.5,160.3 128.8,161.2 129.1,161.5 129.5,161.0 129.8,161.2 130.2,160.7 130.5,160.7 130.9,160.6 131.2,161.3 131.6,161.1 131.9,160.8 132.2,160.8 132.6,161.2 132.9,161.0 133.3,160.5 133.6,161.7 134.0,161.0 134.3,160.9 134.6,161.6 135.0,161.4 135.3,160.9 135.7,161.2 136.0,160.4 136.4,160.6 136.7,159.9 137.1,161.5 137.4,160.1 137.7,161.2 138.1,160.5 138.4,160.5 138.8,160.8 139.1,161.0 139.5,161.2 139.8,161.7 140.1,161.1 140.5,161.3 140.8,160.7 141.2,161.2 141.5,161.0 141.9,160.7 142.2,160.9 142.6,160.9 142.9,161.0 143.2,161.1 143.6,160.7 143.9,160.6 144.3,161.3 144.6,160.2 145.0,160.6 145.3,161.6 145.7,159.7 146.0,160.6 146.3,161.2 146.7,160.2 147.0,162.1 147.4,159.8 147.7,161.6 148.1,161.6 148.4,161.3 148.7,160.8 149.1,161.1 149.4,160.5 149.8,161.3 150.1,160.4 150.5,160.8 150.8,161.4 151.2,160.4 151.5,160.7 151.8,161.0 152.2,160.3 152.5,161.4 152.9,161.1 153.2,160.2 153.6,160.9 153.9,160.6 154.2,160.6 154.6,160.9 154.9,160.6 155.3,161.3 155.6,160.6 156.0,161.3 156.3,160.9 156.7,161.3 157.0,160.6 157.3,160.7 157.7,160.4 158.0,161.1 158.4,161.3 158.7,161.8 159.1,161.5 159.4,161.0 159.7,160.8 160.1,161.0 160.4,160.9 160.8,161.5 161.1,161.3 161.5,160.5 161.8,160.6 162.2,161.5 162.5,161.0 162.8,160.8 163.2,161.4 163.5,160.7 163.9,160.7 164.2,160.6 164.6,160.0 164.9,161.2 165.2,160.3 165.6,160.6 165.9,160.5 166.3,161.2 166.6,160.8 167.0,160.8 167.3,160.1 167.7,160.8 168.0,160.1 168.3,160.9 168.7,161.0 169.0,160.8 169.4,161.7 169.7,161.0 170.1,161.1 170.4,160.9 170.7,160.7 171.1,161.2 171.4,161.3 171.8,160.2 172.1,161.2 172.5,161.0 172.8,161.2 173.2,161.0 173.5,160.2 173.8,160.2 174.2,161.6 174.5,160.8 174.9,160.1 175.2,160.9 175.6,160.6 175.9,159.9 176.2,159.7 176.6,160.0 176.9,160.8 177.3,160.7 177.6,160.6 178.0,160.8 178.3,160.9 178.7,159.7 179.0,160.5 179.3,160.3 179.7,160.1 180.0,160.4 180.4,160.6 180.7,160.5 181.1,160.0 181.4,160.4 181.7,161.5 182.1,160.1 182.4,159.8 182.8,160.7 183.1,160.8 183.5,160.8 183.8,160.0 184.2,161.0 184.5,160.2 184.8,160.0 185.2,160.2 185.5,160.4 185.9,160.8 186.2,160.7 186.6,160.4 186.9,160.9 187.2,160.5 187.6,160.8 187.9,159.8 188.3,159.7 188.6,160.7 189.0,159.7 189.3,160.2 189.7,160.3 190.0,160.1 190.3,160.1 190.7,160.9 191.0,159.1 191.4,160.6 191.7,161.2 192.1,160.2 192.4,160.1 192.7,160.4 193.1,160.9 193.4,159.5 193.8,160.0 194.1,159.8 194.5,160.1 194.8,159.9 195.2,160.1 195.5,159.5 195.8,159.6 196.2,159.2 196.5,159.1 196.9,159.2 197.2,159.1 197.6,158.4 197.9,159.5 198.2,158.5 198.6,157.6 198.9,158.3 199.3,157.0 199.6,156.9 200.0,155.8 200.3,154.7 200.7,153.0 201.0,150.2 201.3,146.9 201.7,142.9 202.0,135.1 202.4,131.0 202.7,130.3 203.1,133.6 203.4,139.4 203.7,146.3 204.1,149.1 204.4,153.0 204.8,154.2 205.1,155.3 205.5,156.5 205.8,157.2 206.2,158.0 206.5,158.0 206.8,158.2 207.2,158.5 207.5,159.2 207.9,159.1 208.2,158.4 208.6,158.7 208.9,159.2 209.2,158.9 209.6,159.1 209.9,158.9 210.3,159.2 210.6,159.6 211.0,159.9 211.3,159.4 211.7,160.4 212.0,159.5 212.3,160.9 212.7,160.0 213.0,159.8 213.4,159.3 213.7,158.3 214.1,159.5 214.4,159.7 214.7,160.4 215.1,159.0 215.4,160.5 215.8,159.5 216.1,159.9 216.5,158.5 216.8,159.7 217.2,159.5 217.5,159.9 217.8,159.7 218.2,159.1 218.5,160.1 218.9,159.9 219.2,159.9 219.6,160.1 219.9,160.1 220.2,159.6 220.6,159.0 220.9,159.0 221.3,160.3 221.6,160.0 222.0,159.7 222.3,159.5 222.7,159.7 223.0,159.7 223.3,159.5 223.7,159.4 224.0,160.7 224.4,159.8 224.7,159.4 225.1,159.1 225.4,159.4 225.7,160.0 226.1,160.1 226.4,159.6 226.8,159.8 227.1,159.6 227.5,159.2 227.8,160.3 228.2,159.9 228.5,160.9 228.8,159.4 229.2,159.7 229.5,160.2 229.9,159.7 230.2,159.2 230.6,159.4 230.9,159.8 231.2,159.9 231.6,159.8 231.9,160.3 232.3,160.2 232.6,159.9 233.0,159.8 233.3,159.7 233.7,160.0 234.0,160.2 234.3,159.8 234.7,160.0 235.0,159.6 235.4,159.1 235.7,159.3 236.1,160.1 236.4,159.9 236.7,160.4 237.1,159.6 237.4,160.0 237.8,160.1 238.1,159.9 238.5,159.1 238.8,159.1 239.2,159.1 239.5,158.5 239.8,158.9 240.2,158.8 240.5,157.7 240.9,158.2 241.2,156.3 241.6,155.1 241.9,153.5 242.2,151.1 242.6,149.3 242.9,147.5 243.3,148.2 243.6,149.4 244.0,151.7 244.3,153.5 244.7,154.7 245.0,156.5 245.3,157.0 245.7,158.5 246.0,158.5 246.4,159.6 246.7,159.4 247.1,159.7 247.4,159.6 247.7,159.7 248.1,160.0 248.4,160.2 248.8,159.6 249.1,160.2 249.5,161.2 249.8,160.1 250.2,160.0 250.5,159.9 250.8,159.6 251.2,160.8 251.5,160.3 251.9,160.4 252.2,161.2 252.6,161.5 252.9,160.0 253.2,160.9 253.6,160.7 253.9,160.6 254.3,160.7 254.6,160.5 255.0,161.2 255.3,160.8 255.7,160.7 256.0,161.1 256.3,160.9 256.7,160.8 257.0,160.7 257.4,161.4 257.7,160.8 258.1,160.5 258.4,160.2 258.7,160.5 259.1,160.1 259.4,160.7 259.8,160.8 260.1,159.7 260.5,160.7 260.8,161.0 261.2,160.7 261.5,160.2 261.8,161.3 262.2,160.4 262.5,160.1 262.9,160.2 263.2,160.7 263.6,161.2 263.9,161.2 264.2,160.8 264.6,160.2 264.9,160.4 265.3,160.3 265.6,160.7 266.0,160.0 266.3,160.8 266.7,161.1 267.0,160.7 267.3,161.0 267.7,160.4 268.0,160.1 268.4,160.5 268.7,161.3 269.1,161.3 269.4,160.6 269.7,161.4 270.1,160.7 270.4,161.5 270.8,161.0 271.1,160.6 271.5,161.2 271.8,160.5 272.2,160.4 272.5,160.2 272.8,161.0 273.2,160.8 273.5,160.8 273.9,160.7 274.2,161.5 274.6,160.7 274.9,160.5 275.2,161.4 275.6,161.5 275.9,161.0 276.3,160.1 276.6,160.6 277.0,161.2 277.3,160.9 277.7,161.6 278.0,160.3 278.3,161.2 278.7,160.6 279.0,161.5 279.4,160.9 279.7,161.4 280.1,160.6 280.4,160.3 280.7,160.4 281.1,160.6 281.4,160.5 281.8,161.5 282.1,161.5 282.5,161.1 282.8,160.5 283.2,160.9 283.5,160.6 283.8,161.6 284.2,161.1 284.5,161.2 284.9,160.8 285.2,160.0 285.6,160.6 285.9,160.5 286.2,161.1 286.6,161.0 286.9,160.6 287.3,160.8 287.6,161.7 288.0,160.5 288.3,160.6 288.7,160.9 289.0,160.7 289.3,160.8 289.7,161.2 290.0,161.8 290.4,160.2 290.7,161.0 291.1,161.0 291.4,161.0 291.7,160.9 292.1,160.8 292.4,161.4 292.8,160.8 293.1,160.9 293.5,161.0 293.8,161.0 294.2,160.9 294.5,161.5 294.8,161.0 295.2,161.1 295.5,161.0 295.9,160.6 296.2,160.6 296.6,160.5 296.9,161.1 297.3,160.7 297.6,160.5 297.9,161.1 298.3,161.3 298.6,160.2 299.0,161.8 299.3,161.0 299.7,161.0 300.0,161.5 300.3,161.1 300.7,160.8 301.0,162.0 301.4,160.5 301.7,161.0 302.1,161.4 302.4,160.6 302.8,161.0 303.1,161.2 303.4,162.1 303.8,160.6 304.1,161.0 304.5,161.3 304.8,161.1 305.2,160.5 305.5,161.2 305.8,161.1 306.2,161.2 306.5,161.6 306.9,161.5 307.2,161.2 307.6,161.2 307.9,160.6 308.3,161.0 308.6,161.2 308.9,160.9 309.3,161.1 309.6,160.7 310.0,161.7 310.3,162.0 310.7,160.9 311.0,161.2 311.3,161.0 311.7,161.6 312.0,161.3 312.4,161.1 312.7,161.0 313.1,161.1 313.4,160.6 313.8,161.4 314.1,160.7 314.4,161.3 314.8,161.1 315.1,161.6 315.5,161.1 315.8,161.5 316.2,160.7 316.5,161.3 316.8,161.0 317.2,161.2 317.5,161.1 317.9,161.5 318.2,160.2 318.6,161.2 318.9,160.4 319.3,161.6 319.6,160.2 319.9,160.6 320.3,160.3 320.6,161.8 321.0,160.5 321.3,161.1 321.7,160.8 322.0,160.3 322.3,160.9 322.7,161.4 323.0,161.0 323.4,161.5 323.7,160.9 324.1,161.1 324.4,160.9 324.8,161.2 325.1,161.9 325.4,161.3 325.8,161.2 326.1,160.8 326.5,160.8 326.8,161.8 327.2,160.6 327.5,160.7 327.8,161.1 328.2,160.9 328.5,162.0 328.9,160.0 329.2,161.3 329.6,161.4 329.9,160.6 330.3,160.8 330.6,161.3 330.9,161.8 331.3,160.7 331.6,160.4 332.0,161.5 332.3,161.8 332.7,161.0 333.0,160.1 333.3,161.8 333.7,161.0 334.0,161.6 334.4,161.1 334.7,160.9 335.1,160.9 335.4,161.8 335.8,161.8 336.1,160.1 336.4,160.7 336.8,161.9 337.1,160.9 337.5,160.5 337.8,161.1 338.2,161.1 338.5,161.1 338.8,160.9 339.2,161.0 339.5,160.9 339.9,161.3 340.2,160.7 340.6,161.0 340.9,161.0 341.3,161.7 341.6,161.3 341.9,161.1 342.3,161.4 342.6,161.3 343.0,161.6 343.3,161.3 343.7,161.9 344.0,161.7 344.3,161.1 344.7,160.9 345.0,161.5 345.4,161.3 345.7,161.1 346.1,160.4 346.4,160.3 346.8,161.3 347.1,161.5 347.4,161.5 347.8,160.5 348.1,161.6 348.5,160.9 348.8,161.3 349.2,161.3 349.5,160.8 349.8,160.8 350.2,160.2 350.5,160.7 350.9,160.3 351.2,161.3 351.6,161.1 351.9,161.5 352.3,161.3 352.6,160.8 352.9,161.3 353.3,160.9 353.6,161.4 354.0,161.3 354.3,160.7 354.7,161.1 355.0,161.1 355.3,161.0 355.7,161.5 356.0,161.9 356.4,160.9 356.7,161.0 357.1,160.1 357.4,161.1 357.8,160.9 358.1,160.1 358.4,161.2 358.8,161.4 359.1,160.8 359.5,160.9 359.8,160.7 360.2,161.4 360.5,160.4 360.8,161.0 361.2,162.0 361.5,161.1 361.9,161.3 362.2,161.0 362.6,160.6 362.9,161.1 363.3,161.3 363.6,160.6 363.9,161.2 364.3,161.6 364.6,161.6 365.0,160.4 365.3,160.6 365.7,160.3 366.0,161.6 366.3,161.3 366.7,161.4 367.0,160.7 367.4,160.5 367.7,161.1 368.1,161.1 368.4,160.7 368.8,161.1 369.1,161.3 369.4,161.1 369.8,160.5 370.1,160.0 370.5,160.9 370.8,161.0 371.2,160.8 371.5,160.7 371.8,160.6 372.2,161.2 372.5,160.8 372.9,160.9 373.2,160.4 373.6,160.5 373.9,160.8 374.3,160.2 374.6,160.0 374.9,160.3 375.3,160.9 375.6,160.2 376.0,160.6 376.3,159.6 376.7,159.1 377.0,158.1 377.3,157.7 377.7,157.5 378.0,155.7 378.4,154.4 378.7,153.3 379.1,153.0 379.4,154.0 379.8,155.6 380.1,157.2 380.4,158.2 380.8,158.9 381.1,159.3 381.5,159.3 381.8,159.8 382.2,159.7 382.5,160.8 382.8,159.5 383.2,160.5 383.5,161.7 383.9,160.5 384.2,160.2 384.6,160.8 384.9,161.4 385.3,160.8 385.6,161.2 385.9,161.0 386.3,160.8 386.6,162.4 387.0,161.0 387.3,160.7 387.7,160.8 388.0,161.2 388.3,161.2 388.7,161.4 389.0,161.1 389.4,160.4 389.7,161.3 390.1,160.9 390.4,160.9 390.8,160.4 391.1,160.8 391.4,160.8 391.8,161.1 392.1,160.4 392.5,161.1 392.8,161.1 393.2,160.6 393.5,160.8 393.8,160.7 394.2,161.5 394.5,160.0 394.9,161.0 395.2,160.4 395.6,160.9 395.9,161.5 396.3,160.8 396.6,161.2 396.9,160.7 397.3,162.0 397.6,161.5 398.0,161.6 398.3,160.5 398.7,160.6 399.0,161.6 399.3,161.0 399.7,161.0 400.0,161.3 400.4,160.6 400.7,161.5 401.1,161.1 401.4,161.3 401.8,160.8 402.1,161.4 402.4,160.8 402.8,161.6 403.1,161.6 403.5,161.5 403.8,161.4 404.2,161.4 404.5,159.9 404.8,161.5 405.2,161.0 405.5,161.2 405.9,161.0 406.2,160.5 406.6,160.9 406.9,161.4 407.3,161.8 407.6,160.9 407.9,160.7 408.3,161.8 408.6,160.7 409.0,162.1 409.3,161.2 409.7,160.7 410.0,161.6 410.3,161.9 410.7,160.5 411.0,161.8 411.4,161.0 411.7,161.8 412.1,161.0 412.4,160.4 412.8,161.4 413.1,161.6 413.4,162.1 413.8,161.9 414.1,161.5 414.5,161.0 414.8,160.9 415.2,161.0 415.5,160.8 415.8,161.0 416.2,160.0 416.5,161.2 416.9,161.1 417.2,162.3 417.6,161.5 417.9,160.9 418.3,161.4 418.6,160.6 418.9,160.9 419.3,160.3 419.6,161.8 420.0,161.4 420.3,160.6 420.7,161.1 421.0,161.6 421.3,161.4 421.7,161.3 422.0,160.8 422.4,160.9 422.7,161.2 423.1,161.6 423.4,160.8 423.8,160.6 424.1,161.7 424.4,160.7 424.8,161.6 425.1,161.3 425.5,161.5 425.8,161.9 426.2,161.5 426.5,161.5 426.8,160.7 427.2,160.8 427.5,161.4 427.9,161.8 428.2,161.8 428.6,162.2 428.9,161.3 429.3,161.2 429.6,161.6 429.9,161.2 430.3,161.1 430.6,160.7 431.0,161.6 431.3,160.7 431.7,161.4 432.0,160.5 432.3,161.6 432.7,160.7 433.0,161.5 433.4,160.4 433.7,160.9 434.1,161.7 434.4,160.8 434.8,161.2 435.1,160.9 435.4,160.1 435.8,161.3 436.1,161.3 436.5,160.6 436.8,161.4 437.2,160.8 437.5,160.7 437.8,161.1 438.2,160.8 438.5,162.2 438.9,160.4 439.2,161.5 439.6,161.6 439.9,160.2 440.3,160.4 440.6,161.4 440.9,160.9 441.3,161.3 441.6,161.6 442.0,161.0 442.3,160.6 442.7,159.9 443.0,161.2 443.3,160.7 443.7,161.3 444.0,161.2 444.4,160.5 444.7,161.9 445.1,161.6 445.4,161.5 445.8,160.6 446.1,160.9 446.4,160.9 446.8,160.9 447.1,160.6 447.5,161.3 447.8,161.2 448.2,161.3 448.5,160.9 448.8,161.7 449.2,161.2 449.5,159.9 449.9,160.8 450.2,161.1 450.6,161.5 450.9,160.9 451.3,161.0 451.6,160.8 451.9,161.4 452.3,160.9 452.6,160.8 453.0,160.7 453.3,161.3 453.7,160.8 454.0,160.3 454.4,161.3 454.7,160.7 455.0,161.2 455.4,161.2 455.7,161.5 456.1,161.4 456.4,160.7 456.8,160.9 457.1,160.4 457.4,161.7 457.8,161.1 458.1,161.5 458.5,160.7 458.8,159.9 459.2,161.5 459.5,160.8 459.9,160.8 460.2,160.7 460.5,161.0 460.9,160.9 461.2,159.8 461.6,161.0 461.9,160.2 462.3,160.1 462.6,161.0 462.9,160.4 463.3,159.7 463.6,158.9 464.0,159.6 464.3,159.5 464.7,159.0 465.0,158.2 465.4,158.2 465.7,157.7 466.0,158.1 466.4,158.0 466.7,157.8 467.1,156.7 467.4,156.7 467.8,156.4 468.1,155.4 468.4,154.8 468.8,155.1 469.1,153.4 469.5,153.1 469.8,152.3 470.2,152.8 470.5,152.9 470.9,154.7 471.2,156.3 471.5,157.7 471.9,158.1 472.2,158.5 472.6,158.8 472.9,158.9 473.3,159.4 473.6,160.0 473.9,159.6 474.3,160.5 474.6,159.8 475.0,159.5 475.3,160.0 475.7,159.8 476.0,160.0 476.4,161.1 476.7,160.6 477.0,160.8 477.4,161.3 477.7,161.3 478.1,160.6 478.4,161.4 478.8,161.0 479.1,160.9 479.4,161.1 479.8,160.3 480.1,160.6 480.5,160.9 480.8,161.2 481.2,160.8 481.5,160.9 481.9,161.4 482.2,161.6 482.5,161.3 482.9,161.6 483.2,160.8 483.6,160.9 483.9,161.2 484.3,160.9 484.6,160.8 484.9,161.8 485.3,160.9 485.6,160.6 486.0,161.3 486.3,161.9 486.7,161.1 487.0,161.6 487.4,160.8 487.7,160.8 488.0,160.7 488.4,161.0 488.7,161.9 489.1,160.5 489.4,161.8 489.8,160.6 490.1,160.9 490.4,161.4 490.8,161.3 491.1,161.1 491.5,160.3 491.8,161.2 492.2,160.5 492.5,162.1 492.9,160.9 493.2,161.0 493.5,160.4 493.9,160.7 494.2,160.3 494.6,161.3 494.9,160.7 495.3,161.1 495.6,160.5 495.9,160.5 496.3,161.2 496.6,160.1 497.0,159.7 497.3,160.5 497.7,159.7 498.0,159.9 498.4,160.4 498.7,159.4 499.0,160.1 499.4,159.3 499.7,160.3 500.1,160.3 500.4,159.6 500.8,159.9 501.1,159.8 501.4,160.4 501.8,160.9 502.1,159.9 502.5,161.0 502.8,160.1 503.2,160.4 503.5,160.0 503.9,161.8 504.2,160.9 504.5,161.0 504.9,160.6 505.2,161.4 505.6,160.0 505.9,161.0 506.3,162.0 506.6,160.9 506.9,161.0 507.3,161.4 507.6,160.7 508.0,161.1 508.3,161.5 508.7,161.2 509.0,161.3 509.4,160.9 509.7,161.2 510.0,161.1 510.4,161.8 510.7,161.4 511.1,161.0 511.4,160.0 511.8,161.4 512.1,161.5 512.4,160.7 512.8,160.2 513.1,160.6 513.5,161.5 513.8,160.7 514.2,160.9 514.5,161.2 514.9,161.7 515.2,161.1 515.5,161.1 515.9,160.9 516.2,161.9 516.6,161.6 516.9,161.1 517.3,160.5 517.6,160.8 517.9,161.4 518.3,160.8 518.6,161.6 519.0,161.3 519.3,161.3 519.7,161.5 520.0,161.4 520.4,160.8 520.7,161.0 521.0,162.2 521.4,160.6 521.7,160.9 522.1,161.6 522.4,161.1 522.8,160.8 523.1,160.6 523.4,161.4 523.8,161.6 524.1,161.8 524.5,161.2 524.8,161.6 525.2,160.7 525.5,161.2 525.9,160.9 526.2,161.2 526.5,161.5 526.9,161.6"/>
<polyline fill="none" stroke="#1A64E4" stroke-width="2.3" stroke-linejoin="round" points="68.6,241.8 69.0,243.1 69.3,242.1 69.7,241.8 70.0,242.3 70.4,241.6 70.7,242.4 71.1,242.5 71.4,242.3 71.7,242.7 72.1,242.2 72.4,242.4 72.8,241.6 73.1,242.4 73.5,241.9 73.8,242.2 74.1,242.4 74.5,242.5 74.8,241.5 75.2,241.6 75.5,242.2 75.9,242.7 76.2,242.6 76.6,242.9 76.9,243.1 77.2,242.7 77.6,242.4 77.9,241.9 78.3,241.9 78.6,242.2 79.0,242.6 79.3,242.6 79.6,242.4 80.0,242.4 80.3,242.8 80.7,242.6 81.0,242.6 81.4,242.6 81.7,242.1 82.1,241.9 82.4,242.7 82.7,242.7 83.1,242.3 83.4,242.2 83.8,243.7 84.1,242.0 84.5,242.3 84.8,242.6 85.1,241.8 85.5,242.5 85.8,243.5 86.2,243.0 86.5,242.8 86.9,242.8 87.2,242.5 87.6,243.0 87.9,242.4 88.2,242.2 88.6,242.5 88.9,243.0 89.3,242.7 89.6,242.8 90.0,241.4 90.3,243.1 90.6,243.8 91.0,243.2 91.3,242.3 91.7,242.0 92.0,242.6 92.4,241.9 92.7,242.9 93.1,242.2 93.4,243.0 93.7,243.2 94.1,241.4 94.4,242.6 94.8,242.1 95.1,241.7 95.5,242.2 95.8,242.4 96.1,243.1 96.5,241.7 96.8,243.1 97.2,243.6 97.5,242.8 97.9,242.8 98.2,242.5 98.6,241.8 98.9,242.8 99.2,242.7 99.6,242.9 99.9,243.9 100.3,242.9 100.6,242.7 101.0,243.4 101.3,241.8 101.6,241.9 102.0,242.3 102.3,242.1 102.7,242.9 103.0,242.3 103.4,243.5 103.7,243.3 104.1,242.9 104.4,242.3 104.7,242.8 105.1,242.9 105.4,241.9 105.8,242.7 106.1,242.9 106.5,242.6 106.8,243.4 107.1,243.2 107.5,242.1 107.8,242.6 108.2,242.0 108.5,242.8 108.9,242.0 109.2,243.0 109.6,242.7 109.9,243.0 110.2,242.4 110.6,241.7 110.9,243.5 111.3,242.4 111.6,243.3 112.0,242.7 112.3,242.9 112.6,243.5 113.0,242.7 113.3,243.3 113.7,241.7 114.0,243.0 114.4,242.4 114.7,242.4 115.1,242.5 115.4,242.7 115.7,243.4 116.1,241.5 116.4,242.5 116.8,242.1 117.1,243.1 117.5,242.3 117.8,242.8 118.1,242.3 118.5,242.9 118.8,243.1 119.2,242.3 119.5,242.5 119.9,241.7 120.2,242.7 120.6,243.0 120.9,242.2 121.2,243.1 121.6,241.4 121.9,241.5 122.3,241.7 122.6,242.2 123.0,242.5 123.3,242.5 123.6,242.5 124.0,242.9 124.3,242.2 124.7,241.8 125.0,241.8 125.4,243.7 125.7,241.2 126.1,242.4 126.4,243.3 126.7,242.8 127.1,242.0 127.4,242.5 127.8,243.0 128.1,243.2 128.5,242.0 128.8,242.9 129.1,242.6 129.5,243.1 129.8,243.3 130.2,242.3 130.5,241.7 130.9,242.7 131.2,243.5 131.6,242.9 131.9,242.6 132.2,243.8 132.6,241.9 132.9,243.0 133.3,242.2 133.6,242.5 134.0,242.5 134.3,243.3 134.6,242.0 135.0,242.2 135.3,241.6 135.7,242.8 136.0,242.2 136.4,242.7 136.7,241.9 137.1,242.3 137.4,243.1 137.7,242.4 138.1,242.8 138.4,242.8 138.8,242.3 139.1,241.6 139.5,243.0 139.8,242.6 140.1,243.0 140.5,241.4 140.8,241.6 141.2,241.3 141.5,242.0 141.9,243.0 142.2,242.8 142.6,242.5 142.9,242.5 143.2,242.9 143.6,242.3 143.9,242.7 144.3,242.5 144.6,241.3 145.0,242.3 145.3,243.2 145.7,242.2 146.0,242.4 146.3,242.1 146.7,242.2 147.0,243.1 147.4,242.3 147.7,241.9 148.1,240.7 148.4,242.1 148.7,241.4 149.1,241.5 149.4,242.9 149.8,242.8 150.1,241.4 150.5,242.9 150.8,242.7 151.2,242.0 151.5,242.9 151.8,241.6 152.2,241.8 152.5,241.7 152.9,241.8 153.2,242.9 153.6,241.7 153.9,241.8 154.2,241.9 154.6,242.5 154.9,242.2 155.3,242.9 155.6,242.0 156.0,241.7 156.3,242.1 156.7,242.4 157.0,241.9 157.3,242.6 157.7,243.4 158.0,242.1 158.4,242.4 158.7,243.2 159.1,242.1 159.4,241.9 159.7,241.8 160.1,242.6 160.4,242.7 160.8,242.3 161.1,242.4 161.5,243.1 161.8,242.9 162.2,241.6 162.5,242.4 162.8,242.4 163.2,242.8 163.5,242.2 163.9,242.0 164.2,242.1 164.6,241.4 164.9,242.3 165.2,242.0 165.6,242.6 165.9,241.8 166.3,242.1 166.6,241.8 167.0,241.8 167.3,242.7 167.7,242.1 168.0,242.6 168.3,241.7 168.7,242.4 169.0,241.4 169.4,242.1 169.7,242.0 170.1,242.6 170.4,242.4 170.7,242.2 171.1,242.8 171.4,242.4 171.8,242.6 172.1,242.7 172.5,242.2 172.8,242.1 173.2,242.5 173.5,242.0 173.8,242.5 174.2,242.9 174.5,242.7 174.9,242.0 175.2,241.5 175.6,242.2 175.9,242.2 176.2,242.8 176.6,242.0 176.9,242.1 177.3,242.6 177.6,241.9 178.0,242.1 178.3,243.1 178.7,243.0 179.0,242.5 179.3,242.3 179.7,241.6 180.0,242.5 180.4,242.2 180.7,242.3 181.1,241.9 181.4,242.1 181.7,242.0 182.1,242.3 182.4,242.9 182.8,242.3 183.1,241.2 183.5,241.5 183.8,241.2 184.2,241.6 184.5,242.4 184.8,242.3 185.2,241.7 185.5,242.2 185.9,241.6 186.2,241.2 186.6,241.2 186.9,241.5 187.2,242.7 187.6,241.2 187.9,242.6 188.3,242.6 188.6,241.8 189.0,241.8 189.3,241.5 189.7,241.8 190.0,242.1 190.3,241.8 190.7,242.3 191.0,242.3 191.4,241.8 191.7,241.8 192.1,241.5 192.4,241.7 192.7,240.9 193.1,241.7 193.4,241.5 193.8,240.8 194.1,242.4 194.5,240.6 194.8,240.6 195.2,241.1 195.5,239.8 195.8,240.3 196.2,239.8 196.5,239.9 196.9,240.2 197.2,240.2 197.6,240.3 197.9,239.8 198.2,239.6 198.6,238.8 198.9,237.6 199.3,237.7 199.6,235.9 200.0,234.5 200.3,233.8 200.7,230.8 201.0,226.8 201.3,221.4 201.7,213.0 202.0,199.5 202.4,184.7 202.7,171.2 203.1,171.9 203.4,184.3 203.7,201.0 204.1,212.8 204.4,220.5 204.8,226.6 205.1,229.7 205.5,232.9 205.8,235.0 206.2,236.1 206.5,235.9 206.8,237.6 207.2,238.6 207.5,239.0 207.9,239.8 208.2,238.8 208.6,240.1 208.9,239.6 209.2,240.3 209.6,240.6 209.9,240.9 210.3,240.3 210.6,240.8 211.0,240.1 211.3,240.1 211.7,241.2 212.0,241.0 212.3,240.1 212.7,240.6 213.0,241.1 213.4,242.0 213.7,241.8 214.1,241.7 214.4,240.3 214.7,241.2 215.1,241.6 215.4,241.5 215.8,241.6 216.1,241.2 216.5,242.3 216.8,242.2 217.2,241.3 217.5,240.9 217.8,242.6 218.2,241.1 218.5,242.1 218.9,242.5 219.2,240.9 219.6,241.6 219.9,241.3 220.2,241.8 220.6,241.7 220.9,242.6 221.3,241.8 221.6,241.5 222.0,242.1 222.3,241.4 222.7,241.3 223.0,242.8 223.3,241.1 223.7,241.3 224.0,241.6 224.4,241.0 224.7,240.4 225.1,242.1 225.4,241.1 225.7,241.3 226.1,241.4 226.4,241.0 226.8,241.0 227.1,241.7 227.5,242.9 227.8,242.0 228.2,242.0 228.5,240.8 228.8,241.6 229.2,240.9 229.5,242.0 229.9,241.5 230.2,241.6 230.6,241.5 230.9,241.3 231.2,240.8 231.6,241.9 231.9,240.8 232.3,240.9 232.6,241.4 233.0,241.2 233.3,241.7 233.7,242.1 234.0,241.7 234.3,241.6 234.7,241.5 235.0,241.9 235.4,240.4 235.7,241.6 236.1,240.9 236.4,240.6 236.7,241.3 237.1,241.0 237.4,241.4 237.8,241.6 238.1,239.6 238.5,240.7 238.8,241.7 239.2,240.9 239.5,240.9 239.8,239.8 240.2,238.5 240.5,238.0 240.9,238.1 241.2,237.0 241.6,234.3 241.9,232.0 242.2,229.0 242.6,224.1 242.9,222.1 243.3,223.1 243.6,226.3 244.0,228.8 244.3,233.2 244.7,234.4 245.0,236.1 245.3,236.6 245.7,239.3 246.0,239.2 246.4,241.2 246.7,240.4 247.1,240.6 247.4,239.8 247.7,241.8 248.1,240.9 248.4,241.1 248.8,240.1 249.1,241.9 249.5,242.0 249.8,241.2 250.2,241.7 250.5,241.9 250.8,242.3 251.2,241.8 251.5,242.7 251.9,241.7 252.2,241.5 252.6,241.6 252.9,240.5 253.2,241.5 253.6,242.5 253.9,242.1 254.3,241.5 254.6,242.2 255.0,240.9 255.3,241.9 255.7,242.3 256.0,242.5 256.3,241.7 256.7,242.6 257.0,243.1 257.4,241.9 257.7,242.5 258.1,241.3 258.4,241.1 258.7,242.5 259.1,242.2 259.4,242.3 259.8,241.9 260.1,242.0 260.5,242.6 260.8,243.1 261.2,242.1 261.5,241.3 261.8,242.9 262.2,242.5 262.5,242.6 262.9,242.3 263.2,243.5 263.6,242.3 263.9,242.5 264.2,241.2 264.6,241.9 264.9,241.9 265.3,242.2 265.6,242.5 266.0,241.9 266.3,243.2 266.7,241.7 267.0,242.0 267.3,242.4 267.7,241.6 268.0,242.6 268.4,242.6 268.7,242.1 269.1,243.4 269.4,242.4 269.7,242.5 270.1,241.8 270.4,241.4 270.8,242.0 271.1,242.1 271.5,242.1 271.8,242.8 272.2,241.0 272.5,241.7 272.8,241.3 273.2,243.1 273.5,242.0 273.9,242.1 274.2,241.7 274.6,242.8 274.9,242.1 275.2,242.5 275.6,241.2 275.9,243.0 276.3,242.6 276.6,242.7 277.0,243.0 277.3,242.3 277.7,242.3 278.0,242.8 278.3,242.6 278.7,242.2 279.0,242.4 279.4,242.1 279.7,242.8 280.1,242.9 280.4,242.4 280.7,243.4 281.1,241.5 281.4,242.3 281.8,243.3 282.1,242.2 282.5,241.5 282.8,243.2 283.2,242.7 283.5,241.7 283.8,242.8 284.2,241.8 284.5,241.7 284.9,242.3 285.2,242.1 285.6,241.8 285.9,242.2 286.2,241.9 286.6,242.4 286.9,242.4 287.3,242.8 287.6,242.2 288.0,241.7 288.3,241.7 288.7,242.3 289.0,243.3 289.3,242.9 289.7,242.1 290.0,242.9 290.4,241.8 290.7,243.0 291.1,242.2 291.4,242.9 291.7,242.8 292.1,242.3 292.4,242.6 292.8,241.8 293.1,242.4 293.5,243.0 293.8,244.7 294.2,242.8 294.5,242.5 294.8,241.9 295.2,243.0 295.5,241.5 295.9,242.0 296.2,242.6 296.6,241.8 296.9,243.3 297.3,243.1 297.6,242.1 297.9,242.1 298.3,241.7 298.6,241.7 299.0,242.7 299.3,242.8 299.7,242.7 300.0,242.6 300.3,242.1 300.7,242.7 301.0,241.6 301.4,242.5 301.7,243.3 302.1,243.2 302.4,242.2 302.8,242.3 303.1,243.2 303.4,243.5 303.8,241.6 304.1,242.2 304.5,242.6 304.8,243.1 305.2,242.0 305.5,242.8 305.8,242.3 306.2,243.8 306.5,242.7 306.9,242.4 307.2,242.3 307.6,243.1 307.9,242.8 308.3,241.9 308.6,242.6 308.9,241.7 309.3,242.1 309.6,241.8 310.0,241.7 310.3,242.1 310.7,241.9 311.0,242.8 311.3,242.9 311.7,242.3 312.0,241.9 312.4,242.9 312.7,241.4 313.1,241.4 313.4,242.9 313.8,242.8 314.1,243.0 314.4,242.4 314.8,241.8 315.1,242.2 315.5,242.8 315.8,242.1 316.2,242.1 316.5,241.7 316.8,241.8 317.2,243.0 317.5,242.7 317.9,241.8 318.2,241.9 318.6,242.2 318.9,242.8 319.3,241.8 319.6,242.4 319.9,241.3 320.3,241.8 320.6,242.7 321.0,243.0 321.3,241.9 321.7,242.1 322.0,242.9 322.3,242.3 322.7,242.2 323.0,242.8 323.4,242.6 323.7,243.1 324.1,242.9 324.4,242.2 324.8,242.4 325.1,242.5 325.4,241.7 325.8,242.0 326.1,243.0 326.5,241.6 326.8,243.0 327.2,242.7 327.5,242.4 327.8,242.8 328.2,242.8 328.5,243.2 328.9,242.3 329.2,242.4 329.6,242.4 329.9,243.5 330.3,243.0 330.6,242.0 330.9,242.3 331.3,242.1 331.6,242.5 332.0,242.6 332.3,243.8 332.7,241.5 333.0,243.1 333.3,242.7 333.7,242.1 334.0,242.4 334.4,242.2 334.7,242.5 335.1,243.1 335.4,241.7 335.8,243.2 336.1,242.3 336.4,243.3 336.8,242.7 337.1,243.2 337.5,242.8 337.8,243.1 338.2,242.5 338.5,242.0 338.8,242.9 339.2,242.9 339.5,243.7 339.9,241.4 340.2,242.4 340.6,243.1 340.9,241.8 341.3,242.4 341.6,243.7 341.9,243.3 342.3,242.0 342.6,243.3 343.0,243.1 343.3,242.9 343.7,242.7 344.0,242.6 344.3,242.0 344.7,242.2 345.0,242.9 345.4,242.6 345.7,243.5 346.1,242.3 346.4,241.2 346.8,242.3 347.1,242.6 347.4,242.7 347.8,242.5 348.1,242.0 348.5,243.3 348.8,242.1 349.2,242.9 349.5,242.3 349.8,241.8 350.2,243.3 350.5,241.1 350.9,242.0 351.2,242.7 351.6,242.3 351.9,242.9 352.3,242.4 352.6,242.2 352.9,243.7 353.3,242.3 353.6,242.4 354.0,241.9 354.3,242.1 354.7,242.8 355.0,242.8 355.3,242.5 355.7,242.1 356.0,242.8 356.4,241.5 356.7,242.3 357.1,242.3 357.4,242.0 357.8,242.5 358.1,242.1 358.4,242.0 358.8,243.4 359.1,242.8 359.5,243.1 359.8,242.4 360.2,242.9 360.5,242.8 360.8,243.1 361.2,243.7 361.5,242.3 361.9,242.5 362.2,242.4 362.6,240.4 362.9,241.6 363.3,242.4 363.6,242.7 363.9,242.0 364.3,243.0 364.6,243.0 365.0,242.1 365.3,243.1 365.7,243.3 366.0,242.5 366.3,241.7 366.7,243.0 367.0,242.1 367.4,242.0 367.7,242.2 368.1,241.9 368.4,242.7 368.8,242.5 369.1,242.7 369.4,242.4 369.8,241.6 370.1,241.9 370.5,242.4 370.8,241.6 371.2,243.4 371.5,241.6 371.8,241.3 372.2,242.2 372.5,241.8 372.9,241.3 373.2,241.0 373.6,241.2 373.9,241.2 374.3,240.9 374.6,239.9 374.9,239.9 375.3,239.6 375.6,238.9 376.0,235.8 376.3,235.8 376.7,234.1 377.0,231.8 377.3,228.1 377.7,222.6 378.0,214.0 378.4,202.8 378.7,193.9 379.1,194.8 379.4,202.5 379.8,213.8 380.1,223.0 380.4,228.2 380.8,230.8 381.1,234.7 381.5,236.1 381.8,237.5 382.2,239.0 382.5,239.4 382.8,239.5 383.2,240.6 383.5,240.7 383.9,240.8 384.2,241.1 384.6,241.3 384.9,241.1 385.3,241.2 385.6,241.5 385.9,241.1 386.3,241.0 386.6,242.5 387.0,241.7 387.3,241.9 387.7,241.9 388.0,242.0 388.3,242.1 388.7,242.1 389.0,241.7 389.4,242.6 389.7,241.8 390.1,242.8 390.4,241.2 390.8,241.6 391.1,242.8 391.4,242.2 391.8,241.9 392.1,242.5 392.5,241.7 392.8,242.4 393.2,241.1 393.5,242.1 393.8,242.0 394.2,242.7 394.5,242.9 394.9,241.9 395.2,243.3 395.6,242.1 395.9,241.3 396.3,241.1 396.6,243.3 396.9,242.4 397.3,242.1 397.6,242.0 398.0,241.8 398.3,243.2 398.7,242.4 399.0,243.4 399.3,242.3 399.7,241.2 400.0,242.9 400.4,242.3 400.7,242.3 401.1,243.3 401.4,242.3 401.8,243.1 402.1,242.5 402.4,242.1 402.8,242.8 403.1,242.2 403.5,243.2 403.8,243.0 404.2,242.5 404.5,242.8 404.8,242.8 405.2,242.3 405.5,243.0 405.9,242.4 406.2,242.8 406.6,242.0 406.9,242.6 407.3,242.7 407.6,242.1 407.9,242.3 408.3,242.2 408.6,242.9 409.0,242.1 409.3,242.8 409.7,243.4 410.0,242.7 410.3,241.6 410.7,242.6 411.0,243.1 411.4,242.4 411.7,243.1 412.1,242.9 412.4,242.8 412.8,242.4 413.1,242.2 413.4,242.4 413.8,242.6 414.1,242.8 414.5,242.8 414.8,242.4 415.2,242.6 415.5,242.7 415.8,241.6 416.2,242.1 416.5,242.1 416.9,242.4 417.2,242.4 417.6,242.4 417.9,242.1 418.3,242.9 418.6,242.7 418.9,241.6 419.3,242.6 419.6,241.9 420.0,243.5 420.3,242.3 420.7,242.3 421.0,242.6 421.3,242.4 421.7,242.5 422.0,243.4 422.4,242.7 422.7,243.0 423.1,243.2 423.4,242.0 423.8,243.5 424.1,242.9 424.4,243.1 424.8,242.1 425.1,243.0 425.5,242.8 425.8,242.3 426.2,243.8 426.5,242.9 426.8,242.4 427.2,242.7 427.5,243.1 427.9,243.2 428.2,242.9 428.6,243.2 428.9,243.4 429.3,241.9 429.6,242.3 429.9,242.0 430.3,242.6 430.6,243.3 431.0,242.9 431.3,242.0 431.7,242.4 432.0,243.1 432.3,242.3 432.7,242.5 433.0,242.7 433.4,241.5 433.7,243.0 434.1,242.7 434.4,242.9 434.8,242.0 435.1,242.1 435.4,242.2 435.8,242.7 436.1,242.6 436.5,242.6 436.8,243.5 437.2,243.3 437.5,242.1 437.8,242.2 438.2,243.5 438.5,242.4 438.9,243.3 439.2,243.4 439.6,242.2 439.9,242.4 440.3,242.6 440.6,242.1 440.9,242.0 441.3,242.3 441.6,243.0 442.0,242.3 442.3,242.4 442.7,242.3 443.0,241.8 443.3,243.3 443.7,241.2 444.0,242.2 444.4,242.8 444.7,241.8 445.1,242.9 445.4,243.2 445.8,242.0 446.1,242.6 446.4,241.9 446.8,242.8 447.1,242.6 447.5,242.6 447.8,243.3 448.2,242.8 448.5,243.2 448.8,242.8 449.2,241.8 449.5,242.6 449.9,242.8 450.2,241.7 450.6,243.2 450.9,242.5 451.3,242.7 451.6,242.0 451.9,242.5 452.3,242.6 452.6,242.3 453.0,242.5 453.3,241.3 453.7,243.2 454.0,241.8 454.4,241.2 454.7,241.9 455.0,241.9 455.4,242.7 455.7,241.9 456.1,242.5 456.4,241.8 456.8,243.6 457.1,242.6 457.4,243.4 457.8,241.7 458.1,242.6 458.5,241.7 458.8,242.5 459.2,242.6 459.5,241.3 459.9,241.5 460.2,241.4 460.5,241.2 460.9,241.6 461.2,241.4 461.6,241.0 461.9,241.8 462.3,241.9 462.6,240.8 462.9,241.0 463.3,241.2 463.6,240.8 464.0,240.4 464.3,241.0 464.7,240.7 465.0,240.4 465.4,239.6 465.7,240.5 466.0,240.0 466.4,238.5 466.7,238.4 467.1,238.7 467.4,237.2 467.8,237.3 468.1,236.5 468.4,235.4 468.8,234.8 469.1,233.2 469.5,233.1 469.8,232.0 470.2,234.7 470.5,235.2 470.9,236.2 471.2,236.8 471.5,238.3 471.9,239.3 472.2,239.9 472.6,240.4 472.9,239.9 473.3,241.0 473.6,240.7 473.9,240.6 474.3,240.8 474.6,241.8 475.0,242.2 475.3,241.0 475.7,242.8 476.0,242.7 476.4,241.8 476.7,241.8 477.0,242.0 477.4,242.6 477.7,241.9 478.1,241.6 478.4,242.4 478.8,241.1 479.1,242.3 479.4,242.9 479.8,242.4 480.1,242.7 480.5,242.6 480.8,242.7 481.2,242.4 481.5,241.9 481.9,242.2 482.2,242.3 482.5,243.0 482.9,243.3 483.2,242.6 483.6,242.0 483.9,242.0 484.3,242.3 484.6,243.1 484.9,242.6 485.3,242.4 485.6,242.0 486.0,242.9 486.3,242.5 486.7,242.4 487.0,242.4 487.4,243.3 487.7,242.3 488.0,243.3 488.4,243.1 488.7,242.4 489.1,242.9 489.4,242.3 489.8,241.9 490.1,242.2 490.4,241.8 490.8,242.6 491.1,242.3 491.5,242.6 491.8,242.7 492.2,240.5 492.5,242.4 492.9,241.2 493.2,242.3 493.5,241.7 493.9,242.2 494.2,242.8 494.6,241.0 494.9,242.0 495.3,241.8 495.6,240.7 495.9,242.0 496.3,241.5 496.6,241.0 497.0,240.7 497.3,242.6 497.7,240.4 498.0,239.3 498.4,239.5 498.7,239.5 499.0,239.3 499.4,239.3 499.7,238.8 500.1,239.8 500.4,239.5 500.8,239.3 501.1,240.0 501.4,240.5 501.8,241.4 502.1,241.5 502.5,241.2 502.8,241.6 503.2,241.8 503.5,242.9 503.9,241.5 504.2,242.2 504.5,242.4 504.9,241.6 505.2,242.2 505.6,242.3 505.9,242.0 506.3,242.6 506.6,242.8 506.9,242.9 507.3,242.2 507.6,242.4 508.0,243.7 508.3,241.8 508.7,242.5 509.0,242.9 509.4,242.5 509.7,242.8 510.0,242.5 510.4,242.9 510.7,243.2 511.1,242.3 511.4,242.6 511.8,242.4 512.1,242.3 512.4,242.5 512.8,241.9 513.1,242.9 513.5,243.4 513.8,243.4 514.2,243.2 514.5,242.0 514.9,243.3 515.2,242.1 515.5,242.5 515.9,243.5 516.2,241.9 516.6,243.0 516.9,242.7 517.3,242.4 517.6,242.0 517.9,242.8 518.3,242.3 518.6,243.1 519.0,243.2 519.3,241.8 519.7,242.3 520.0,242.4 520.4,241.9 520.7,241.9 521.0,242.6 521.4,242.4 521.7,241.6 522.1,242.3 522.4,242.8 522.8,241.9 523.1,242.0 523.4,243.4 523.8,243.3 524.1,241.7 524.5,241.8 524.8,242.8 525.2,241.9 525.5,242.4 525.9,242.3 526.2,242.9 526.5,241.2 526.9,241.3"/>
<polyline fill="none" stroke="#EC2430" stroke-width="2.3" stroke-linejoin="round" points="68.6,279.7 69.0,280.8 69.3,280.2 69.7,279.5 70.0,280.6 70.4,280.7 70.7,280.2 71.1,280.2 71.4,280.6 71.7,281.0 72.1,280.5 72.4,280.7 72.8,280.4 73.1,280.2 73.5,280.0 73.8,280.6 74.1,280.3 74.5,280.3 74.8,280.9 75.2,280.7 75.5,280.9 75.9,279.7 76.2,280.8 76.6,280.2 76.9,280.1 77.2,280.1 77.6,281.2 77.9,281.0 78.3,280.2 78.6,280.0 79.0,280.6 79.3,280.4 79.6,281.4 80.0,279.9 80.3,279.7 80.7,280.5 81.0,280.6 81.4,280.7 81.7,281.0 82.1,281.7 82.4,280.5 82.7,280.4 83.1,279.8 83.4,280.8 83.8,281.1 84.1,280.6 84.5,281.3 84.8,280.7 85.1,281.5 85.5,280.9 85.8,280.2 86.2,280.4 86.5,280.0 86.9,279.9 87.2,280.9 87.6,281.2 87.9,281.7 88.2,280.8 88.6,280.7 88.9,280.2 89.3,281.3 89.6,281.0 90.0,280.5 90.3,281.2 90.6,281.1 91.0,279.9 91.3,281.2 91.7,280.9 92.0,280.6 92.4,280.6 92.7,281.7 93.1,281.6 93.4,281.8 93.7,280.3 94.1,280.5 94.4,281.3 94.8,280.3 95.1,280.5 95.5,280.0 95.8,281.8 96.1,281.4 96.5,281.1 96.8,281.0 97.2,280.7 97.5,280.7 97.9,281.2 98.2,280.6 98.6,281.5 98.9,280.7 99.2,280.5 99.6,281.6 99.9,280.9 100.3,281.2 100.6,280.7 101.0,279.8 101.3,281.2 101.6,280.3 102.0,281.5 102.3,280.2 102.7,280.0 103.0,281.1 103.4,281.2 103.7,281.0 104.1,280.4 104.4,281.4 104.7,280.2 105.1,280.7 105.4,280.6 105.8,280.8 106.1,281.4 106.5,280.7 106.8,281.3 107.1,281.3 107.5,280.1 107.8,280.4 108.2,280.8 108.5,280.7 108.9,281.1 109.2,280.0 109.6,281.4 109.9,281.4 110.2,280.9 110.6,280.3 110.9,281.0 111.3,280.7 111.6,281.3 112.0,281.0 112.3,281.4 112.6,280.8 113.0,281.7 113.3,279.9 113.7,280.5 114.0,281.3 114.4,280.3 114.7,281.4 115.1,280.4 115.4,281.1 115.7,280.6 116.1,280.8 116.4,281.1 116.8,281.0 117.1,280.8 117.5,282.1 117.8,281.0 118.1,280.5 118.5,281.5 118.8,281.4 119.2,281.6 119.5,281.9 119.9,280.6 120.2,281.6 120.6,281.6 120.9,281.0 121.2,281.2 121.6,279.5 121.9,280.8 122.3,281.9 122.6,280.2 123.0,280.8 123.3,281.2 123.6,281.3 124.0,281.9 124.3,280.2 124.7,281.1 125.0,281.5 125.4,280.4 125.7,281.0 126.1,282.0 126.4,281.7 126.7,281.3 127.1,279.7 127.4,281.0 127.8,281.2 128.1,280.9 128.5,281.0 128.8,282.6 129.1,280.9 129.5,280.6 129.8,281.2 130.2,280.9 130.5,280.9 130.9,281.0 131.2,281.4 131.6,281.2 131.9,280.5 132.2,281.0 132.6,281.3 132.9,280.8 133.3,281.6 133.6,281.4 134.0,280.6 134.3,281.2 134.6,282.1 135.0,281.8 135.3,281.0 135.7,281.5 136.0,280.7 136.4,280.3 136.7,281.3 137.1,281.2 137.4,281.3 137.7,281.0 138.1,281.2 138.4,280.8 138.8,281.3 139.1,281.5 139.5,281.0 139.8,281.5 140.1,280.2 140.5,280.7 140.8,281.8 141.2,281.9 141.5,281.2 141.9,281.0 142.2,280.4 142.6,281.2 142.9,281.4 143.2,280.3 143.6,281.3 143.9,281.3 144.3,281.3 144.6,280.5 145.0,281.3 145.3,280.3 145.7,281.8 146.0,281.1 146.3,280.5 146.7,281.7 147.0,281.6 147.4,280.7 147.7,282.2 148.1,280.5 148.4,281.2 148.7,281.6 149.1,279.9 149.4,281.5 149.8,281.0 150.1,281.0 150.5,280.5 150.8,281.2 151.2,280.5 151.5,280.6 151.8,280.8 152.2,280.4 152.5,281.8 152.9,280.4 153.2,280.7 153.6,280.9 153.9,281.0 154.2,281.4 154.6,281.4 154.9,280.9 155.3,280.8 155.6,281.0 156.0,281.4 156.3,281.4 156.7,280.8 157.0,280.0 157.3,282.1 157.7,281.5 158.0,281.2 158.4,281.2 158.7,280.8 159.1,280.5 159.4,280.9 159.7,280.9 160.1,280.7 160.4,280.3 160.8,280.9 161.1,281.3 161.5,280.8 161.8,281.0 162.2,280.0 162.5,280.9 162.8,280.9 163.2,280.4 163.5,280.1 163.9,281.2 164.2,280.6 164.6,281.2 164.9,280.8 165.2,281.3 165.6,280.8 165.9,280.2 166.3,280.9 166.6,280.8 167.0,281.3 167.3,280.8 167.7,280.8 168.0,281.4 168.3,281.6 168.7,281.3 169.0,281.5 169.4,281.2 169.7,281.3 170.1,281.4 170.4,281.2 170.7,281.0 171.1,281.0 171.4,282.2 171.8,281.0 172.1,280.8 172.5,280.8 172.8,280.9 173.2,281.1 173.5,280.4 173.8,279.9 174.2,281.1 174.5,280.1 174.9,281.0 175.2,281.0 175.6,281.5 175.9,281.7 176.2,281.1 176.6,280.6 176.9,280.3 177.3,280.5 177.6,280.9 178.0,279.8 178.3,280.9 178.7,280.9 179.0,281.2 179.3,280.7 179.7,280.9 180.0,280.5 180.4,280.6 180.7,280.0 181.1,280.9 181.4,281.6 181.7,280.9 182.1,281.0 182.4,280.3 182.8,281.5 183.1,280.4 183.5,281.2 183.8,280.8 184.2,280.3 184.5,281.3 184.8,280.8 185.2,280.9 185.5,281.0 185.9,280.7 186.2,280.6 186.6,281.0 186.9,280.5 187.2,280.7 187.6,280.4 187.9,279.9 188.3,280.3 188.6,280.4 189.0,280.7 189.3,281.2 189.7,279.8 190.0,280.7 190.3,279.5 190.7,280.1 191.0,280.3 191.4,279.4 191.7,279.6 192.1,280.6 192.4,280.5 192.7,280.4 193.1,280.0 193.4,281.5 193.8,280.3 194.1,279.9 194.5,281.1 194.8,280.5 195.2,280.0 195.5,280.7 195.8,280.1 196.2,280.3 196.5,280.0 196.9,279.3 197.2,280.2 197.6,279.7 197.9,278.9 198.2,278.8 198.6,279.5 198.9,278.5 199.3,278.4 199.6,278.2 200.0,277.3 200.3,275.6 200.7,275.5 201.0,274.0 201.3,271.5 201.7,268.4 202.0,263.0 202.4,257.7 202.7,253.8 203.1,252.9 203.4,258.2 203.7,263.7 204.1,267.9 204.4,271.9 204.8,273.9 205.1,274.7 205.5,276.9 205.8,277.3 206.2,277.9 206.5,278.3 206.8,279.2 207.2,279.1 207.5,278.7 207.9,279.5 208.2,279.7 208.6,279.1 208.9,279.4 209.2,279.5 209.6,279.5 209.9,280.0 210.3,280.4 210.6,280.9 211.0,280.6 211.3,280.5 211.7,280.6 212.0,280.7 212.3,279.9 212.7,280.4 213.0,280.3 213.4,280.1 213.7,279.9 214.1,279.9 214.4,280.0 214.7,279.6 215.1,280.4 215.4,280.2 215.8,280.2 216.1,280.4 216.5,280.6 216.8,279.9 217.2,280.2 217.5,279.4 217.8,279.1 218.2,279.3 218.5,281.0 218.9,279.3 219.2,280.5 219.6,281.0 219.9,280.0 220.2,281.1 220.6,281.2 220.9,280.7 221.3,281.5 221.6,280.6 222.0,279.9 222.3,280.5 222.7,280.1 223.0,279.6 223.3,279.6 223.7,281.4 224.0,280.0 224.4,280.3 224.7,280.0 225.1,280.4 225.4,280.2 225.7,280.1 226.1,279.7 226.4,279.6 226.8,279.9 227.1,280.5 227.5,281.4 227.8,280.9 228.2,281.2 228.5,280.6 228.8,280.3 229.2,279.7 229.5,280.3 229.9,279.3 230.2,280.2 230.6,281.2 230.9,280.5 231.2,280.9 231.6,280.2 231.9,279.7 232.3,280.1 232.6,280.1 233.0,280.9 233.3,281.3 233.7,280.0 234.0,280.1 234.3,280.2 234.7,280.1 235.0,279.7 235.4,280.3 235.7,280.4 236.1,280.4 236.4,279.6 236.7,280.1 237.1,279.3 237.4,280.5 237.8,279.5 238.1,279.8 238.5,279.6 238.8,279.5 239.2,279.1 239.5,278.6 239.8,280.1 240.2,279.1 240.5,278.7 240.9,279.0 241.2,277.1 241.6,276.4 241.9,274.6 242.2,273.3 242.6,270.8 242.9,269.2 243.3,268.9 243.6,270.7 244.0,273.3 244.3,273.6 244.7,276.1 245.0,277.0 245.3,277.9 245.7,277.6 246.0,279.4 246.4,278.9 246.7,279.5 247.1,279.5 247.4,279.1 247.7,279.8 248.1,279.2 248.4,279.7 248.8,280.1 249.1,280.3 249.5,280.4 249.8,280.4 250.2,281.5 250.5,280.7 250.8,279.9 251.2,280.3 251.5,280.3 251.9,280.5 252.2,280.3 252.6,280.2 252.9,281.5 253.2,280.7 253.6,280.5 253.9,280.6 254.3,280.6 254.6,281.4 255.0,281.0 255.3,281.3 255.7,279.2 256.0,280.9 256.3,281.3 256.7,281.8 257.0,280.8 257.4,280.0 257.7,281.1 258.1,280.5 258.4,279.9 258.7,280.5 259.1,281.4 259.4,281.5 259.8,281.2 260.1,280.3 260.5,282.1 260.8,280.3 261.2,280.9 261.5,280.2 261.8,281.6 262.2,281.1 262.5,281.4 262.9,281.0 263.2,280.9 263.6,281.0 263.9,280.0 264.2,281.4 264.6,281.4 264.9,280.7 265.3,280.9 265.6,281.1 266.0,281.7 266.3,281.2 266.7,281.0 267.0,280.7 267.3,280.2 267.7,280.7 268.0,281.0 268.4,280.8 268.7,281.0 269.1,281.4 269.4,281.2 269.7,281.1 270.1,281.3 270.4,281.1 270.8,281.0 271.1,281.2 271.5,280.1 271.8,281.6 272.2,280.4 272.5,281.4 272.8,281.0 273.2,281.6 273.5,281.0 273.9,280.5 274.2,281.6 274.6,281.1 274.9,281.1 275.2,281.1 275.6,281.5 275.9,281.4 276.3,281.2 276.6,280.3 277.0,280.8 277.3,281.1 277.7,281.9 278.0,281.2 278.3,281.0 278.7,281.6 279.0,281.0 279.4,281.0 279.7,281.1 280.1,280.3 280.4,281.5 280.7,281.3 281.1,280.9 281.4,280.5 281.8,281.2 282.1,281.8 282.5,280.7 282.8,280.5 283.2,281.3 283.5,280.3 283.8,280.0 284.2,280.9 284.5,280.7 284.9,280.9 285.2,280.8 285.6,281.2 285.9,281.0 286.2,280.8 286.6,280.9 286.9,281.4 287.3,281.6 287.6,281.5 288.0,281.4 288.3,279.4 288.7,280.6 289.0,280.9 289.3,281.2 289.7,280.3 290.0,281.8 290.4,281.3 290.7,280.8 291.1,281.2 291.4,280.9 291.7,280.7 292.1,281.4 292.4,280.9 292.8,280.4 293.1,280.8 293.5,281.1 293.8,280.6 294.2,281.7 294.5,280.6 294.8,282.0 295.2,281.6 295.5,280.6 295.9,281.2 296.2,281.7 296.6,281.0 296.9,280.5 297.3,281.2 297.6,282.1 297.9,280.4 298.3,281.4 298.6,281.1 299.0,281.1 299.3,280.9 299.7,281.0 300.0,281.6 300.3,281.4 300.7,280.6 301.0,281.9 301.4,280.5 301.7,281.5 302.1,281.2 302.4,281.7 302.8,281.3 303.1,281.7 303.4,281.1 303.8,281.6 304.1,281.3 304.5,282.2 304.8,280.8 305.2,281.7 305.5,281.4 305.8,281.2 306.2,280.9 306.5,281.4 306.9,280.4 307.2,280.5 307.6,281.5 307.9,280.4 308.3,281.9 308.6,281.0 308.9,281.3 309.3,281.2 309.6,281.4 310.0,281.0 310.3,281.0 310.7,281.1 311.0,281.7 311.3,281.7 311.7,281.8 312.0,281.3 312.4,281.1 312.7,280.3 313.1,281.5 313.4,281.6 313.8,281.0 314.1,281.6 314.4,281.8 314.8,281.2 315.1,281.7 315.5,281.3 315.8,280.3 316.2,280.9 316.5,281.0 316.8,281.4 317.2,280.7 317.5,280.9 317.9,280.7 318.2,281.1 318.6,281.2 318.9,281.7 319.3,281.6 319.6,281.3 319.9,281.3 320.3,281.2 320.6,281.2 321.0,281.9 321.3,279.9 321.7,281.1 322.0,281.3 322.3,281.7 322.7,280.6 323.0,281.3 323.4,281.6 323.7,280.9 324.1,280.2 324.4,281.0 324.8,280.6 325.1,281.5 325.4,280.7 325.8,282.1 326.1,281.2 326.5,280.8 326.8,280.9 327.2,280.6 327.5,281.4 327.8,281.9 328.2,281.1 328.5,281.6 328.9,280.7 329.2,281.3 329.6,282.3 329.9,280.5 330.3,281.8 330.6,281.8 330.9,280.2 331.3,280.5 331.6,280.7 332.0,281.7 332.3,281.0 332.7,281.1 333.0,281.5 333.3,281.2 333.7,281.3 334.0,281.0 334.4,281.7 334.7,280.8 335.1,282.0 335.4,281.0 335.8,280.8 336.1,281.5 336.4,281.4 336.8,280.2 337.1,281.3 337.5,280.5 337.8,280.8 338.2,281.6 338.5,280.8 338.8,281.4 339.2,281.0 339.5,282.1 339.9,281.1 340.2,280.6 340.6,280.6 340.9,280.7 341.3,281.2 341.6,281.2 341.9,281.7 342.3,281.3 342.6,281.2 343.0,281.3 343.3,281.1 343.7,281.3 344.0,281.6 344.3,281.6 344.7,280.9 345.0,280.3 345.4,280.8 345.7,281.3 346.1,279.9 346.4,280.9 346.8,281.4 347.1,280.9 347.4,280.6 347.8,282.1 348.1,281.9 348.5,281.0 348.8,281.8 349.2,281.8 349.5,280.6 349.8,282.5 350.2,280.7 350.5,281.0 350.9,280.6 351.2,281.2 351.6,280.5 351.9,281.2 352.3,281.7 352.6,281.3 352.9,281.0 353.3,281.9 353.6,280.7 354.0,281.7 354.3,281.0 354.7,281.3 355.0,281.2 355.3,281.2 355.7,281.1 356.0,280.8 356.4,280.9 356.7,281.4 357.1,281.1 357.4,280.6 357.8,280.8 358.1,280.8 358.4,281.1 358.8,281.2 359.1,281.2 359.5,280.8 359.8,281.2 360.2,280.5 360.5,279.7 360.8,281.1 361.2,280.3 361.5,280.7 361.9,280.5 362.2,281.5 362.6,280.5 362.9,281.3 363.3,280.9 363.6,280.5 363.9,280.3 364.3,281.4 364.6,281.3 365.0,281.5 365.3,282.0 365.7,281.3 366.0,281.3 366.3,281.1 366.7,281.2 367.0,280.9 367.4,280.7 367.7,282.1 368.1,280.2 368.4,281.2 368.8,281.3 369.1,281.1 369.4,280.6 369.8,281.0 370.1,280.8 370.5,280.5 370.8,281.0 371.2,280.8 371.5,280.7 371.8,281.3 372.2,280.4 372.5,281.1 372.9,280.6 373.2,281.1 373.6,280.9 373.9,280.9 374.3,280.2 374.6,280.3 374.9,280.2 375.3,280.6 375.6,280.7 376.0,280.7 376.3,279.7 376.7,279.7 377.0,278.5 377.3,277.8 377.7,277.9 378.0,277.4 378.4,276.3 378.7,275.8 379.1,277.0 379.4,276.7 379.8,276.8 380.1,279.5 380.4,279.0 380.8,279.2 381.1,280.0 381.5,279.6 381.8,281.0 382.2,279.6 382.5,279.8 382.8,280.5 383.2,280.3 383.5,281.4 383.9,280.0 384.2,280.5 384.6,281.0 384.9,281.2 385.3,281.4 385.6,281.1 385.9,282.1 386.3,280.7 386.6,281.1 387.0,281.4 387.3,280.9 387.7,280.9 388.0,280.8 388.3,280.7 388.7,280.5 389.0,280.8 389.4,280.3 389.7,281.3 390.1,280.3 390.4,282.1 390.8,281.9 391.1,281.6 391.4,281.0 391.8,280.8 392.1,281.7 392.5,281.2 392.8,281.4 393.2,280.7 393.5,281.6 393.8,280.7 394.2,281.2 394.5,280.2 394.9,280.8 395.2,281.4 395.6,280.9 395.9,280.9 396.3,281.5 396.6,281.1 396.9,281.7 397.3,279.9 397.6,281.4 398.0,281.4 398.3,280.4 398.7,280.5 399.0,281.6 399.3,280.6 399.7,280.8 400.0,281.4 400.4,281.0 400.7,281.4 401.1,280.7 401.4,281.3 401.8,281.7 402.1,281.3 402.4,280.0 402.8,281.5 403.1,281.2 403.5,280.7 403.8,281.8 404.2,280.3 404.5,282.1 404.8,280.8 405.2,281.9 405.5,281.1 405.9,280.5 406.2,281.2 406.6,281.3 406.9,281.4 407.3,281.7 407.6,280.7 407.9,281.4 408.3,281.5 408.6,281.0 409.0,280.7 409.3,280.7 409.7,281.5 410.0,281.5 410.3,280.7 410.7,280.5 411.0,281.8 411.4,280.4 411.7,281.2 412.1,280.7 412.4,280.3 412.8,281.2 413.1,281.0 413.4,281.9 413.8,282.3 414.1,281.0 414.5,281.7 414.8,281.7 415.2,280.9 415.5,280.7 415.8,281.9 416.2,281.0 416.5,281.1 416.9,281.0 417.2,281.1 417.6,280.8 417.9,281.5 418.3,281.8 418.6,281.0 418.9,280.5 419.3,281.2 419.6,280.4 420.0,280.8 420.3,281.8 420.7,282.3 421.0,281.3 421.3,280.6 421.7,281.5 422.0,280.0 422.4,280.8 422.7,281.9 423.1,281.5 423.4,280.5 423.8,280.3 424.1,281.6 424.4,281.1 424.8,280.8 425.1,281.3 425.5,280.9 425.8,280.2 426.2,281.5 426.5,280.8 426.8,280.6 427.2,280.5 427.5,281.3 427.9,280.7 428.2,281.5 428.6,281.0 428.9,281.7 429.3,281.0 429.6,280.8 429.9,280.2 430.3,280.6 430.6,281.5 431.0,282.7 431.3,280.5 431.7,280.6 432.0,281.3 432.3,281.4 432.7,280.8 433.0,281.2 433.4,280.3 433.7,281.0 434.1,281.6 434.4,282.0 434.8,281.1 435.1,281.0 435.4,281.4 435.8,281.7 436.1,281.4 436.5,280.8 436.8,281.3 437.2,281.6 437.5,280.8 437.8,280.5 438.2,281.4 438.5,281.3 438.9,281.6 439.2,281.2 439.6,280.8 439.9,280.9 440.3,280.6 440.6,280.7 440.9,280.9 441.3,280.9 441.6,281.7 442.0,280.5 442.3,281.1 442.7,280.8 443.0,281.9 443.3,281.3 443.7,281.0 444.0,281.5 444.4,281.2 444.7,280.9 445.1,281.9 445.4,281.5 445.8,282.0 446.1,281.7 446.4,281.5 446.8,281.2 447.1,280.6 447.5,281.5 447.8,281.2 448.2,281.5 448.5,281.1 448.8,280.8 449.2,280.6 449.5,281.5 449.9,281.8 450.2,281.0 450.6,281.4 450.9,281.8 451.3,280.7 451.6,281.0 451.9,280.6 452.3,281.7 452.6,281.3 453.0,280.9 453.3,280.3 453.7,281.0 454.0,281.6 454.4,281.0 454.7,280.9 455.0,281.4 455.4,280.5 455.7,281.1 456.1,281.4 456.4,280.7 456.8,280.7 457.1,281.2 457.4,281.0 457.8,281.0 458.1,281.2 458.5,281.2 458.8,280.6 459.2,280.7 459.5,281.3 459.9,281.6 460.2,281.7 460.5,280.6 460.9,281.5 461.2,281.3 461.6,280.9 461.9,281.1 462.3,281.3 462.6,281.7 462.9,280.3 463.3,281.1 463.6,280.7 464.0,280.6 464.3,281.2 464.7,281.0 465.0,280.0 465.4,280.3 465.7,280.5 466.0,279.6 466.4,280.7 466.7,280.1 467.1,280.1 467.4,280.1 467.8,280.7 468.1,279.7 468.4,279.4 468.8,280.3 469.1,279.0 469.5,278.9 469.8,278.5 470.2,279.8 470.5,279.5 470.9,279.8 471.2,279.8 471.5,279.9 471.9,279.7 472.2,279.9 472.6,280.6 472.9,280.6 473.3,281.4 473.6,280.3 473.9,280.5 474.3,280.3 474.6,281.5 475.0,280.3 475.3,281.3 475.7,281.7 476.0,280.9 476.4,281.3 476.7,280.0 477.0,280.8 477.4,280.2 477.7,281.1 478.1,281.1 478.4,280.7 478.8,281.5 479.1,281.3 479.4,280.8 479.8,280.8 480.1,280.4 480.5,281.0 480.8,282.1 481.2,280.8 481.5,281.3 481.9,280.8 482.2,281.5 482.5,281.3 482.9,281.0 483.2,280.2 483.6,280.9 483.9,281.7 484.3,281.0 484.6,281.4 484.9,280.9 485.3,280.2 485.6,281.3 486.0,281.3 486.3,280.9 486.7,281.0 487.0,281.3 487.4,280.9 487.7,281.3 488.0,281.0 488.4,280.0 488.7,281.1 489.1,280.9 489.4,280.7 489.8,281.4 490.1,280.9 490.4,281.4 490.8,281.7 491.1,281.2 491.5,280.4 491.8,280.8 492.2,281.6 492.5,281.0 492.9,280.8 493.2,281.1 493.5,281.4 493.9,281.3 494.2,281.5 494.6,280.8 494.9,281.0 495.3,281.0 495.6,281.2 495.9,280.1 496.3,281.0 496.6,280.5 497.0,281.9 497.3,281.9 497.7,282.0 498.0,281.6 498.4,280.9 498.7,281.6 499.0,281.1 499.4,281.5 499.7,280.7 500.1,280.9 500.4,281.4 500.8,282.0 501.1,281.2 501.4,282.3 501.8,282.5 502.1,280.5 502.5,281.2 502.8,280.7 503.2,281.1 503.5,280.9 503.9,281.1 504.2,281.7 504.5,281.6 504.9,281.3 505.2,281.2 505.6,281.2 505.9,281.2 506.3,281.5 506.6,281.2 506.9,281.4 507.3,280.5 507.6,281.6 508.0,282.0 508.3,281.3 508.7,280.5 509.0,281.8 509.4,281.0 509.7,279.7 510.0,281.1 510.4,281.5 510.7,281.4 511.1,281.8 511.4,281.5 511.8,281.2 512.1,280.2 512.4,280.6 512.8,281.3 513.1,281.5 513.5,280.7 513.8,280.9 514.2,281.4 514.5,280.2 514.9,280.2 515.2,281.1 515.5,281.3 515.9,280.9 516.2,280.0 516.6,281.2 516.9,280.5 517.3,281.5 517.6,281.1 517.9,281.3 518.3,281.5 518.6,280.9 519.0,281.6 519.3,281.8 519.7,281.4 520.0,281.8 520.4,280.9 520.7,281.6 521.0,281.3 521.4,280.7 521.7,281.1 522.1,280.9 522.4,280.9 522.8,281.2 523.1,281.7 523.4,281.0 523.8,281.2 524.1,280.5 524.5,281.2 524.8,281.8 525.2,281.6 525.5,281.4 525.9,280.9 526.2,280.7 526.5,281.1 526.9,280.5"/>
<polyline fill="none" stroke="#444444" stroke-width="2.3" stroke-linejoin="round" points="68.6,323.1 69.0,324.2 69.3,323.3 69.7,324.6 70.0,323.0 70.4,324.0 70.7,323.2 71.1,323.9 71.4,323.3 71.7,323.8 72.1,323.8 72.4,323.6 72.8,324.1 73.1,324.6 73.5,323.6 73.8,324.3 74.1,324.0 74.5,323.9 74.8,325.0 75.2,322.9 75.5,323.6 75.9,323.1 76.2,323.9 76.6,323.9 76.9,325.9 77.2,324.2 77.6,324.9 77.9,324.7 78.3,323.9 78.6,324.3 79.0,324.9 79.3,324.2 79.6,324.2 80.0,324.4 80.3,323.4 80.7,323.8 81.0,324.3 81.4,324.4 81.7,323.7 82.1,324.0 82.4,324.1 82.7,324.1 83.1,324.6 83.4,324.3 83.8,324.3 84.1,323.6 84.5,323.7 84.8,324.4 85.1,323.5 85.5,324.4 85.8,324.0 86.2,323.9 86.5,324.6 86.9,324.0 87.2,323.9 87.6,324.0 87.9,324.4 88.2,325.7 88.6,323.3 88.9,324.4 89.3,324.3 89.6,324.9 90.0,324.2 90.3,323.2 90.6,325.1 91.0,323.9 91.3,324.4 91.7,323.7 92.0,323.9 92.4,324.2 92.7,324.9 93.1,324.9 93.4,324.2 93.7,324.7 94.1,324.3 94.4,324.5 94.8,324.5 95.1,324.8 95.5,324.2 95.8,324.4 96.1,324.6 96.5,324.5 96.8,324.1 97.2,325.4 97.5,324.3 97.9,324.9 98.2,324.6 98.6,325.1 98.9,323.4 99.2,325.6 99.6,324.4 99.9,323.9 100.3,324.6 100.6,325.7 101.0,324.8 101.3,323.9 101.6,324.3 102.0,325.2 102.3,323.9 102.7,324.5 103.0,324.4 103.4,325.7 103.7,324.4 104.1,325.2 104.4,324.3 104.7,324.2 105.1,325.1 105.4,324.9 105.8,323.7 106.1,324.9 106.5,324.9 106.8,324.3 107.1,324.7 107.5,324.8 107.8,324.4 108.2,324.3 108.5,324.3 108.9,324.5 109.2,324.0 109.6,324.6 109.9,323.9 110.2,324.7 110.6,324.6 110.9,324.1 111.3,325.1 111.6,325.6 112.0,325.3 112.3,324.0 112.6,325.3 113.0,324.8 113.3,324.6 113.7,324.4 114.0,324.7 114.4,325.4 114.7,324.9 115.1,324.5 115.4,324.3 115.7,324.5 116.1,325.0 116.4,325.6 116.8,324.2 117.1,324.7 117.5,324.5 117.8,324.3 118.1,324.9 118.5,325.0 118.8,324.0 119.2,324.2 119.5,325.3 119.9,324.9 120.2,325.0 120.6,324.5 120.9,324.5 121.2,324.9 121.6,324.5 121.9,324.2 122.3,324.7 122.6,325.2 123.0,324.2 123.3,325.2 123.6,325.1 124.0,324.3 124.3,324.7 124.7,324.7 125.0,325.0 125.4,325.1 125.7,324.1 126.1,324.1 126.4,325.2 126.7,324.8 127.1,324.9 127.4,324.9 127.8,325.5 128.1,324.1 128.5,325.3 128.8,324.3 129.1,325.1 129.5,325.4 129.8,324.1 130.2,324.9 130.5,324.6 130.9,324.6 131.2,324.8 131.6,324.2 131.9,324.3 132.2,325.1 132.6,325.2 132.9,324.5 133.3,324.0 133.6,325.9 134.0,325.3 134.3,324.9 134.6,324.2 135.0,324.5 135.3,324.9 135.7,324.3 136.0,325.5 136.4,324.8 136.7,324.9 137.1,324.2 137.4,324.3 137.7,324.4 138.1,324.9 138.4,324.6 138.8,324.6 139.1,324.9 139.5,324.9 139.8,325.5 140.1,324.7 140.5,324.3 140.8,324.7 141.2,325.5 141.5,324.5 141.9,324.8 142.2,324.6 142.6,325.0 142.9,324.9 143.2,324.4 143.6,324.6 143.9,325.2 144.3,325.3 144.6,325.2 145.0,325.2 145.3,324.6 145.7,324.6 146.0,325.2 146.3,324.2 146.7,324.7 147.0,323.8 147.4,324.6 147.7,324.4 148.1,324.2 148.4,325.0 148.7,324.4 149.1,324.6 149.4,324.6 149.8,324.4 150.1,325.5 150.5,324.5 150.8,324.8 151.2,324.1 151.5,324.5 151.8,324.6 152.2,324.6 152.5,324.5 152.9,324.8 153.2,325.5 153.6,324.7 153.9,324.7 154.2,324.6 154.6,326.0 154.9,325.5 155.3,325.0 155.6,325.1 156.0,324.4 156.3,324.7 156.7,324.8 157.0,324.8 157.3,324.3 157.7,324.4 158.0,325.0 158.4,324.9 158.7,323.7 159.1,324.8 159.4,325.4 159.7,324.4 160.1,324.9 160.4,324.0 160.8,325.1 161.1,324.2 161.5,324.1 161.8,324.6 162.2,325.9 162.5,324.4 162.8,324.1 163.2,325.0 163.5,324.8 163.9,325.5 164.2,324.1 164.6,323.9 164.9,324.6 165.2,324.9 165.6,324.9 165.9,325.2 166.3,324.0 166.6,324.3 167.0,324.6 167.3,325.1 167.7,324.9 168.0,324.5 168.3,324.2 168.7,325.1 169.0,325.2 169.4,326.0 169.7,324.6 170.1,325.5 170.4,324.1 170.7,324.4 171.1,324.4 171.4,324.5 171.8,324.3 172.1,324.4 172.5,324.7 172.8,324.5 173.2,325.0 173.5,324.6 173.8,324.7 174.2,325.4 174.5,324.8 174.9,324.7 175.2,324.7 175.6,324.7 175.9,324.9 176.2,324.3 176.6,325.2 176.9,325.4 177.3,325.2 177.6,324.4 178.0,323.9 178.3,324.4 178.7,324.7 179.0,325.0 179.3,324.5 179.7,324.5 180.0,325.4 180.4,324.3 180.7,325.1 181.1,325.1 181.4,324.0 181.7,324.7 182.1,324.3 182.4,324.1 182.8,323.7 183.1,323.8 183.5,324.8 183.8,324.4 184.2,324.7 184.5,324.0 184.8,324.4 185.2,324.4 185.5,323.8 185.9,323.7 186.2,324.7 186.6,324.6 186.9,324.1 187.2,324.5 187.6,324.8 187.9,325.4 188.3,324.1 188.6,324.8 189.0,325.5 189.3,324.5 189.7,325.2 190.0,323.2 190.3,325.1 190.7,324.4 191.0,323.5 191.4,324.8 191.7,324.9 192.1,324.9 192.4,324.9 192.7,324.3 193.1,323.9 193.4,324.1 193.8,324.2 194.1,324.4 194.5,324.0 194.8,324.2 195.2,324.6 195.5,324.2 195.8,325.2 196.2,325.1 196.5,323.4 196.9,323.6 197.2,323.2 197.6,323.1 197.9,323.9 198.2,323.0 198.6,322.8 198.9,323.0 199.3,323.3 199.6,322.5 200.0,322.1 200.3,322.2 200.7,321.4 201.0,320.5 201.3,319.4 201.7,316.5 202.0,314.1 202.4,309.0 202.7,303.2 203.1,295.5 203.4,290.7 203.7,295.7 204.1,302.1 204.4,309.9 204.8,314.0 205.1,316.5 205.5,318.3 205.8,320.0 206.2,321.0 206.5,321.3 206.8,322.4 207.2,321.8 207.5,322.8 207.9,323.0 208.2,322.3 208.6,323.5 208.9,322.8 209.2,322.3 209.6,323.3 209.9,323.6 210.3,324.2 210.6,323.6 211.0,324.6 211.3,324.6 211.7,324.5 212.0,324.6 212.3,324.1 212.7,323.7 213.0,324.3 213.4,324.5 213.7,324.2 214.1,323.9 214.4,323.3 214.7,324.4 215.1,324.3 215.4,323.5 215.8,324.2 216.1,324.5 216.5,324.1 216.8,324.5 217.2,324.5 217.5,323.4 217.8,324.0 218.2,324.4 218.5,324.6 218.9,324.8 219.2,323.2 219.6,324.1 219.9,324.5 220.2,324.8 220.6,325.0 220.9,323.7 221.3,324.0 221.6,323.7 222.0,324.6 222.3,323.5 222.7,324.8 223.0,324.7 223.3,324.4 223.7,323.1 224.0,323.9 224.4,324.6 224.7,323.5 225.1,324.1 225.4,324.2 225.7,324.7 226.1,324.4 226.4,324.4 226.8,324.0 227.1,324.2 227.5,324.2 227.8,324.6 228.2,324.1 228.5,324.8 228.8,323.4 229.2,324.8 229.5,324.2 229.9,324.8 230.2,324.3 230.6,324.7 230.9,325.0 231.2,324.0 231.6,324.3 231.9,324.2 232.3,324.4 232.6,323.5 233.0,324.2 233.3,324.1 233.7,323.9 234.0,324.2 234.3,323.5 234.7,324.9 235.0,324.5 235.4,325.2 235.7,323.8 236.1,323.7 236.4,324.4 236.7,323.4 237.1,324.3 237.4,323.8 237.8,324.0 238.1,324.2 238.5,324.1 238.8,324.9 239.2,324.3 239.5,323.3 239.8,324.3 240.2,323.0 240.5,323.5 240.9,322.7 241.2,322.6 241.6,323.3 241.9,321.9 242.2,321.4 242.6,321.0 242.9,320.8 243.3,321.6 243.6,320.7 244.0,321.1 244.3,322.5 244.7,321.9 245.0,322.9 245.3,323.9 245.7,323.6 246.0,323.5 246.4,323.5 246.7,323.5 247.1,323.8 247.4,324.2 247.7,324.8 248.1,324.7 248.4,324.0 248.8,324.0 249.1,324.7 249.5,323.5 249.8,324.2 250.2,324.2 250.5,323.9 250.8,324.0 251.2,324.6 251.5,323.7 251.9,324.0 252.2,324.2 252.6,324.5 252.9,323.8 253.2,325.1 253.6,324.4 253.9,324.4 254.3,324.4 254.6,324.2 255.0,324.1 255.3,325.1 255.7,324.7 256.0,324.5 256.3,325.1 256.7,324.2 257.0,324.9 257.4,324.6 257.7,324.2 258.1,325.0 258.4,323.9 258.7,324.9 259.1,324.2 259.4,324.8 259.8,325.3 260.1,324.9 260.5,324.3 260.8,324.6 261.2,324.4 261.5,324.1 261.8,324.1 262.2,324.7 262.5,324.9 262.9,323.8 263.2,324.6 263.6,324.9 263.9,324.7 264.2,324.2 264.6,325.2 264.9,324.1 265.3,325.0 265.6,325.4 266.0,323.7 266.3,324.8 266.7,324.8 267.0,324.8 267.3,324.3 267.7,324.5 268.0,324.0 268.4,324.7 268.7,324.9 269.1,324.4 269.4,324.2 269.7,324.5 270.1,324.7 270.4,324.7 270.8,324.6 271.1,324.7 271.5,324.0 271.8,323.4 272.2,325.0 272.5,325.4 272.8,324.0 273.2,324.4 273.5,324.8 273.9,325.2 274.2,325.0 274.6,325.3 274.9,324.7 275.2,324.9 275.6,324.9 275.9,324.5 276.3,325.3 276.6,325.0 277.0,325.2 277.3,324.5 277.7,325.2 278.0,324.2 278.3,324.9 278.7,323.4 279.0,324.2 279.4,325.1 279.7,324.5 280.1,324.8 280.4,323.9 280.7,325.5 281.1,325.0 281.4,324.7 281.8,324.9 282.1,324.9 282.5,325.4 282.8,324.8 283.2,324.0 283.5,324.6 283.8,325.4 284.2,325.0 284.5,324.5 284.9,325.0 285.2,324.8 285.6,325.0 285.9,324.0 286.2,324.3 286.6,325.1 286.9,324.6 287.3,324.9 287.6,325.7 288.0,324.6 288.3,324.9 288.7,324.5 289.0,324.4 289.3,324.7 289.7,324.0 290.0,323.7 290.4,325.4 290.7,324.7 291.1,325.3 291.4,324.8 291.7,324.8 292.1,325.1 292.4,325.1 292.8,324.2 293.1,325.3 293.5,324.3 293.8,324.9 294.2,326.0 294.5,324.8 294.8,325.6 295.2,324.6 295.5,325.1 295.9,324.8 296.2,325.0 296.6,324.3 296.9,324.3 297.3,324.9 297.6,324.0 297.9,324.4 298.3,325.1 298.6,324.5 299.0,324.3 299.3,324.2 299.7,324.8 300.0,324.6 300.3,324.8 300.7,324.7 301.0,325.7 301.4,324.6 301.7,323.8 302.1,324.8 302.4,324.8 302.8,324.9 303.1,324.0 303.4,325.3 303.8,324.8 304.1,324.8 304.5,324.0 304.8,325.0 305.2,324.7 305.5,325.4 305.8,324.6 306.2,324.2 306.5,324.8 306.9,324.3 307.2,325.0 307.6,324.3 307.9,324.7 308.3,324.7 308.6,324.8 308.9,324.5 309.3,324.4 309.6,324.8 310.0,324.5 310.3,324.9 310.7,324.7 311.0,323.7 311.3,324.8 311.7,325.5 312.0,324.9 312.4,325.1 312.7,325.0 313.1,324.6 313.4,324.1 313.8,325.2 314.1,325.3 314.4,325.1 314.8,325.0 315.1,325.0 315.5,324.8 315.8,324.9 316.2,324.8 316.5,324.9 316.8,324.3 317.2,324.5 317.5,325.1 317.9,324.6 318.2,323.6 318.6,324.9 318.9,323.7 319.3,325.7 319.6,325.1 319.9,325.1 320.3,324.5 320.6,324.3 321.0,324.7 321.3,324.8 321.7,324.4 322.0,324.9 322.3,325.1 322.7,325.1 323.0,324.3 323.4,323.8 323.7,324.8 324.1,324.5 324.4,325.0 324.8,325.6 325.1,325.6 325.4,324.9 325.8,325.3 326.1,325.6 326.5,324.8 326.8,324.9 327.2,325.2 327.5,324.8 327.8,324.6 328.2,324.4 328.5,324.8 328.9,324.5 329.2,325.2 329.6,324.6 329.9,325.5 330.3,325.4 330.6,324.2 330.9,325.3 331.3,324.6 331.6,325.5 332.0,325.1 332.3,324.8 332.7,325.1 333.0,324.5 333.3,325.0 333.7,325.0 334.0,324.7 334.4,325.0 334.7,324.3 335.1,325.1 335.4,324.2 335.8,325.1 336.1,325.0 336.4,325.2 336.8,324.5 337.1,326.3 337.5,324.7 337.8,324.9 338.2,324.5 338.5,325.5 338.8,324.6 339.2,325.3 339.5,324.4 339.9,325.0 340.2,324.6 340.6,325.3 340.9,324.7 341.3,324.4 341.6,325.0 341.9,324.3 342.3,324.4 342.6,325.2 343.0,323.9 343.3,325.2 343.7,324.6 344.0,324.4 344.3,324.9 344.7,325.1 345.0,324.5 345.4,324.7 345.7,325.2 346.1,325.2 346.4,324.8 346.8,324.5 347.1,324.4 347.4,324.5 347.8,325.1 348.1,325.1 348.5,325.0 348.8,325.5 349.2,324.7 349.5,324.6 349.8,324.6 350.2,325.7 350.5,323.8 350.9,325.0 351.2,325.0 351.6,324.9 351.9,325.9 352.3,325.4 352.6,325.2 352.9,324.4 353.3,325.1 353.6,324.6 354.0,324.8 354.3,324.9 354.7,324.6 355.0,325.1 355.3,325.6 355.7,325.3 356.0,324.9 356.4,323.9 356.7,325.3 357.1,325.3 357.4,324.7 357.8,324.6 358.1,325.1 358.4,324.4 358.8,325.2 359.1,324.3 359.5,324.4 359.8,324.8 360.2,324.1 360.5,324.8 360.8,325.0 361.2,324.2 361.5,325.2 361.9,324.5 362.2,325.0 362.6,324.9 362.9,324.6 363.3,324.5 363.6,324.0 363.9,324.4 364.3,324.4 364.6,325.5 365.0,325.2 365.3,324.1 365.7,325.1 366.0,324.8 366.3,324.6 366.7,324.9 367.0,325.1 367.4,324.4 367.7,324.6 368.1,324.8 368.4,324.2 368.8,324.7 369.1,324.6 369.4,324.3 369.8,324.2 370.1,324.7 370.5,325.0 370.8,324.7 371.2,324.1 371.5,324.8 371.8,324.5 372.2,324.7 372.5,324.9 372.9,323.9 373.2,324.2 373.6,323.9 373.9,323.6 374.3,324.8 374.6,324.2 374.9,322.7 375.3,323.5 375.6,322.7 376.0,323.1 376.3,322.0 376.7,321.1 377.0,320.0 377.3,318.3 377.7,315.2 378.0,310.8 378.4,305.1 378.7,300.4 379.1,299.7 379.4,305.2 379.8,310.8 380.1,315.0 380.4,318.4 380.8,319.3 381.1,321.0 381.5,321.6 381.8,322.8 382.2,322.8 382.5,323.3 382.8,323.7 383.2,323.0 383.5,324.1 383.9,323.7 384.2,324.0 384.6,324.2 384.9,324.7 385.3,324.7 385.6,325.2 385.9,324.5 386.3,324.3 386.6,324.3 387.0,324.9 387.3,325.3 387.7,324.8 388.0,324.3 388.3,324.8 388.7,324.8 389.0,324.7 389.4,324.3 389.7,323.5 390.1,324.5 390.4,325.2 390.8,324.8 391.1,323.7 391.4,324.7 391.8,323.9 392.1,325.7 392.5,324.8 392.8,324.2 393.2,325.1 393.5,324.4 393.8,325.0 394.2,324.8 394.5,324.2 394.9,325.1 395.2,324.2 395.6,325.4 395.9,324.8 396.3,324.3 396.6,324.0 396.9,325.6 397.3,325.5 397.6,324.2 398.0,325.6 398.3,324.9 398.7,324.7 399.0,324.8 399.3,324.7 399.7,325.5 400.0,324.9 400.4,324.0 400.7,325.8 401.1,325.2 401.4,324.3 401.8,324.7 402.1,324.4 402.4,324.9 402.8,325.0 403.1,325.0 403.5,324.6 403.8,324.5 404.2,325.2 404.5,324.8 404.8,325.9 405.2,324.5 405.5,325.2 405.9,324.9 406.2,324.5 406.6,325.5 406.9,324.9 407.3,324.4 407.6,324.7 407.9,325.3 408.3,324.3 408.6,325.5 409.0,325.2 409.3,324.7 409.7,325.5 410.0,325.7 410.3,325.1 410.7,324.9 411.0,325.7 411.4,325.6 411.7,324.4 412.1,324.8 412.4,324.8 412.8,324.7 413.1,324.2 413.4,325.3 413.8,324.9 414.1,324.9 414.5,325.5 414.8,324.6 415.2,324.8 415.5,325.0 415.8,324.7 416.2,324.8 416.5,325.2 416.9,324.9 417.2,325.5 417.6,324.5 417.9,325.0 418.3,324.2 418.6,324.8 418.9,324.5 419.3,325.5 419.6,325.2 420.0,325.1 420.3,325.7 420.7,325.5 421.0,325.2 421.3,324.5 421.7,324.2 422.0,324.8 422.4,324.7 422.7,324.6 423.1,324.7 423.4,324.1 423.8,325.6 424.1,324.3 424.4,324.5 424.8,325.1 425.1,324.1 425.5,325.3 425.8,325.3 426.2,324.7 426.5,324.4 426.8,324.6 427.2,324.0 427.5,325.5 427.9,324.9 428.2,324.5 428.6,324.4 428.9,325.1 429.3,325.6 429.6,324.3 429.9,324.6 430.3,324.0 430.6,325.2 431.0,324.9 431.3,325.9 431.7,324.8 432.0,324.7 432.3,324.5 432.7,325.3 433.0,324.1 433.4,325.2 433.7,325.0 434.1,324.6 434.4,324.4 434.8,325.4 435.1,325.7 435.4,324.6 435.8,325.1 436.1,325.7 436.5,324.6 436.8,324.7 437.2,324.3 437.5,324.8 437.8,324.8 438.2,324.7 438.5,324.5 438.9,324.1 439.2,324.2 439.6,324.4 439.9,325.2 440.3,324.6 440.6,324.4 440.9,325.2 441.3,325.1 441.6,324.5 442.0,324.5 442.3,325.2 442.7,325.0 443.0,324.4 443.3,325.0 443.7,324.8 444.0,325.4 444.4,324.4 444.7,325.3 445.1,325.0 445.4,324.4 445.8,325.3 446.1,325.3 446.4,324.2 446.8,325.8 447.1,324.3 447.5,324.4 447.8,324.7 448.2,325.2 448.5,325.1 448.8,324.8 449.2,325.5 449.5,325.0 449.9,325.5 450.2,326.1 450.6,324.9 450.9,323.6 451.3,324.6 451.6,324.3 451.9,324.8 452.3,324.8 452.6,324.2 453.0,324.2 453.3,324.6 453.7,324.7 454.0,323.5 454.4,325.2 454.7,324.8 455.0,324.7 455.4,324.9 455.7,324.2 456.1,324.7 456.4,325.2 456.8,325.2 457.1,324.9 457.4,324.5 457.8,324.2 458.1,325.3 458.5,324.9 458.8,324.4 459.2,323.5 459.5,324.1 459.9,323.6 460.2,325.1 460.5,324.5 460.9,324.1 461.2,324.3 461.6,325.6 461.9,324.9 462.3,323.6 462.6,324.2 462.9,323.6 463.3,323.3 463.6,324.2 464.0,325.2 464.3,324.7 464.7,323.9 465.0,323.6 465.4,323.8 465.7,324.1 466.0,322.8 466.4,322.5 466.7,324.2 467.1,323.3 467.4,323.9 467.8,323.1 468.1,323.5 468.4,322.4 468.8,322.8 469.1,323.3 469.5,323.0 469.8,322.2 470.2,322.9 470.5,322.3 470.9,322.0 471.2,323.1 471.5,323.7 471.9,323.6 472.2,322.7 472.6,323.9 472.9,323.9 473.3,323.5 473.6,322.6 473.9,324.4 474.3,324.5 474.6,324.4 475.0,323.3 475.3,323.5 475.7,324.8 476.0,324.8 476.4,324.7 476.7,324.3 477.0,324.7 477.4,324.2 477.7,324.4 478.1,324.1 478.4,324.7 478.8,324.4 479.1,325.1 479.4,325.0 479.8,324.2 480.1,325.6 480.5,324.1 480.8,324.9 481.2,325.2 481.5,325.3 481.9,323.6 482.2,325.2 482.5,325.3 482.9,325.4 483.2,323.6 483.6,324.4 483.9,324.7 484.3,324.5 484.6,325.4 484.9,324.4 485.3,325.4 485.6,325.0 486.0,324.0 486.3,324.3 486.7,324.5 487.0,324.8 487.4,325.2 487.7,324.7 488.0,325.2 488.4,324.0 488.7,323.2 489.1,324.6 489.4,325.0 489.8,324.6 490.1,324.2 490.4,324.9 490.8,325.7 491.1,324.7 491.5,324.3 491.8,324.3 492.2,325.7 492.5,324.6 492.9,324.9 493.2,325.2 493.5,325.1 493.9,324.1 494.2,325.0 494.6,324.9 494.9,324.7 495.3,324.9 495.6,324.0 495.9,324.2 496.3,323.8 496.6,324.3 497.0,323.4 497.3,323.6 497.7,322.5 498.0,322.5 498.4,321.7 498.7,321.1 499.0,320.6 499.4,320.0 499.7,320.1 500.1,319.7 500.4,322.0 500.8,321.8 501.1,322.6 501.4,322.8 501.8,324.0 502.1,323.4 502.5,324.3 502.8,324.7 503.2,325.1 503.5,324.9 503.9,324.7 504.2,323.9 504.5,325.2 504.9,325.2 505.2,325.0 505.6,325.0 505.9,324.7 506.3,324.4 506.6,325.2 506.9,325.3 507.3,324.2 507.6,325.2 508.0,324.9 508.3,325.2 508.7,324.9 509.0,325.3 509.4,325.3 509.7,325.2 510.0,324.1 510.4,325.2 510.7,324.8 511.1,324.3 511.4,325.2 511.8,324.1 512.1,325.3 512.4,325.7 512.8,324.6 513.1,325.3 513.5,325.1 513.8,325.2 514.2,324.2 514.5,325.2 514.9,324.9 515.2,325.2 515.5,324.9 515.9,325.4 516.2,325.0 516.6,325.2 516.9,325.5 517.3,325.0 517.6,325.4 517.9,325.0 518.3,325.1 518.6,324.6 519.0,325.3 519.3,325.5 519.7,324.8 520.0,325.3 520.4,325.1 520.7,324.3 521.0,325.1 521.4,325.5 521.7,324.6 522.1,324.0 522.4,325.0 522.8,324.6 523.1,325.8 523.4,324.9 523.8,324.9 524.1,324.6 524.5,325.0 524.8,324.6 525.2,324.4 525.5,324.9 525.9,324.5 526.2,325.5 526.5,324.3 526.9,324.9"/>
<g stroke="#484848" stroke-width="2.5"><line x1="209.40" y1="327.9" x2="209.40" y2="394"/><line x1="251.40" y1="346.6" x2="251.40" y2="394"/><line x1="391.70" y1="354.0" x2="391.70" y2="394"/><line x1="486.70" y1="354.0" x2="486.70" y2="394"/><line x1="518.40" y1="358.2" x2="518.40" y2="394"/></g>
<rect x="40" y="34" width="487" height="360" fill="none" stroke="#000" stroke-width="2"/>
<g stroke="#000" stroke-width="2"><line x1="68.65" y1="387" x2="68.65" y2="394"/><line x1="125.94" y1="387" x2="125.94" y2="394"/><line x1="183.24" y1="387" x2="183.24" y2="394"/><line x1="240.53" y1="387" x2="240.53" y2="394"/><line x1="297.82" y1="387" x2="297.82" y2="394"/><line x1="355.12" y1="387" x2="355.12" y2="394"/><line x1="412.41" y1="387" x2="412.41" y2="394"/><line x1="469.70" y1="387" x2="469.70" y2="394"/><line x1="527.00" y1="387" x2="527.00" y2="394"/></g>
<text x="68.65" y="417.8" text-anchor="middle">20</text><text x="125.94" y="417.8" text-anchor="middle">30</text><text x="183.24" y="417.8" text-anchor="middle">40</text><text x="240.53" y="417.8" text-anchor="middle">50</text><text x="297.82" y="417.8" text-anchor="middle">60</text><text x="355.12" y="417.8" text-anchor="middle">70</text><text x="412.41" y="417.8" text-anchor="middle">80</text><text x="469.70" y="417.8" text-anchor="middle">90</text><text x="527.00" y="417.8" text-anchor="middle">100</text>
<text x="49" y="74.9">25Fe</text>
<text x="46.2" y="110.4" letter-spacing="0.3">20Fe</text>
<text x="45.4" y="151.8" letter-spacing="0.4">15Fe</text>
<text x="48.3" y="229.3" letter-spacing="0.2">10Fe</text>
<text x="49.2" y="270.3" letter-spacing="0.4">5Fe</text>
<text x="49.3" y="315.1" letter-spacing="0.4">0Fe</text>
<text x="148.5" y="59.6" letter-spacing="1">(111)</text>
<text x="253" y="58.6">(200)</text>
<text x="359" y="54.6">(220)</text>
<text x="451" y="56" letter-spacing="0.5">(211)</text>
<text transform="translate(39.9,364) scale(0.72,1)" style="font-family:'Noto Serif CJK SC',serif" font-size="20" font-style="italic" stroke="#000" stroke-width="0.3">γ</text><text x="48.9" y="364">-Ni standard peak</text>
<text x="374" y="24.5" class="s">γ</text><text x="382.8" y="24.5" letter-spacing="0.05">-Ni solid solution</text>
<g class="h" font-size="15.2"><text x="196.38" y="59.74">♥</text><text x="235.88" y="55.94">♥</text><text x="372.38" y="71.54">♥</text><text x="463.68" y="78.14">♥</text><text x="492.28" y="151.04">♥</text><text x="493.88" y="229.04">♥</text><text x="493.08" y="311.04">♥</text><text x="354.38" y="24.94">♥</text></g>
<text x="255" y="444.8" font-size="24">2</text><text transform="translate(268.8,444.6) scale(1.12,1)" font-size="20.5" style="font-family:'Noto Serif CJK SC',serif" font-style="italic" stroke="#000" stroke-width="0.35">θ</text><text x="286.5" y="444.4" font-size="24" letter-spacing="0.5">(°)</text>
<text transform="translate(24.7,282.7) rotate(-90)" font-size="23.8">Intensity (a.u.)</text>
</g>
</svg>
</body></html>
